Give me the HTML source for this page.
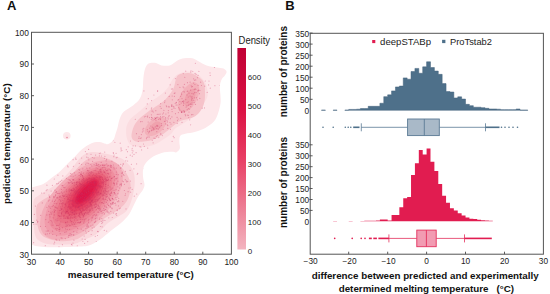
<!DOCTYPE html><html><head><meta charset="utf-8"><style>html,body{margin:0;padding:0;background:#fff;overflow:hidden}svg{display:block}svg text{font-family:"Liberation Sans",sans-serif}</style></head><body>
<svg width="550" height="294" viewBox="0 0 550 294" font-family="&quot;Liberation Sans&quot;, sans-serif">
<defs><clipPath id="ca"><rect x="31.5" y="32.3" width="199.9" height="221.9"/></clipPath>
<linearGradient id="cb" x1="0" y1="1" x2="0" y2="0">
<stop offset="0.000" stop-color="#f3b4bf"/>
<stop offset="0.200" stop-color="#ed8096"/>
<stop offset="0.450" stop-color="#e83e64"/>
<stop offset="0.700" stop-color="#db1043"/>
<stop offset="1.000" stop-color="#c00034"/>
</linearGradient>
<clipPath id="cl1"><path d="M22.0 196.0C25.5 186.0 38.3 187.0 43.2 184.0C48.1 181.0 48.7 180.0 51.4 177.9C54.1 175.8 56.9 174.1 59.6 171.7C62.3 169.3 65.0 166.3 67.7 163.6C70.4 160.9 73.5 157.8 75.9 155.4C78.3 153.0 79.5 151.3 82.0 149.3C84.5 147.3 88.1 144.7 91.0 143.5C93.9 142.3 96.5 142.0 99.2 142.1C101.9 142.2 105.0 144.5 107.3 144.2C109.6 143.9 111.6 142.2 113.0 140.5C114.4 138.8 114.8 136.1 115.5 134.0C116.2 131.9 116.8 130.4 117.5 127.7C118.2 125.0 118.9 120.7 120.0 118.0C121.1 115.3 121.8 113.6 124.0 111.5C126.2 109.4 130.8 107.3 133.4 105.2C136.0 103.1 138.1 101.6 139.6 99.1C141.1 96.6 142.0 93.5 142.6 90.0C143.2 86.5 143.0 81.5 143.4 78.0C143.8 74.5 144.2 71.4 145.0 69.0C145.8 66.6 146.8 64.5 148.5 63.5C150.2 62.5 152.8 62.5 155.0 62.8C157.2 63.1 159.1 65.0 161.6 65.4C164.1 65.8 167.1 66.2 169.8 65.4C172.5 64.6 175.5 61.5 177.9 60.3C180.3 59.1 181.7 58.6 184.1 58.3C186.5 58.0 189.9 57.8 192.3 58.3C194.7 58.8 196.0 60.1 198.4 61.3C200.8 62.5 203.5 64.4 206.6 65.4C209.7 66.4 214.0 66.9 216.8 67.4C219.6 67.9 221.9 67.8 223.5 68.5C225.1 69.2 226.4 70.5 226.6 71.8C226.8 73.0 225.3 74.8 224.5 76.0C223.7 77.2 222.7 77.4 221.9 79.0C221.1 80.6 220.1 83.0 219.9 85.8C219.7 88.6 220.4 93.1 220.5 96.0C220.6 98.9 220.9 100.3 220.5 103.2C220.1 106.1 219.1 110.4 218.0 113.4C216.9 116.5 216.0 119.1 213.9 121.5C211.8 123.9 208.8 126.0 205.7 127.7C202.6 129.4 198.9 130.7 195.5 131.7C192.1 132.7 187.9 133.1 185.3 133.8C182.8 134.5 181.2 134.6 180.2 136.0C179.2 137.4 179.5 139.9 179.4 142.0C179.3 144.1 180.3 146.8 179.8 148.5C179.3 150.2 177.8 151.6 176.5 152.2C175.2 152.8 174.3 151.7 171.8 151.8C169.3 151.9 165.0 152.0 161.6 153.0C158.2 154.0 154.1 155.9 151.4 157.7C148.7 159.5 146.7 161.8 145.3 163.8C143.9 165.9 143.3 167.6 143.0 170.0C142.7 172.4 142.9 175.6 143.2 178.1C143.4 180.6 144.6 182.9 144.5 185.0C144.4 187.1 143.5 188.7 142.5 190.5C141.5 192.3 139.9 193.7 138.5 196.0C137.1 198.3 135.8 201.2 134.2 204.3C132.6 207.4 131.2 211.4 129.0 214.5C126.8 217.6 124.1 220.2 121.0 223.0C117.9 225.8 114.0 228.3 110.6 231.0C107.2 233.7 103.6 237.1 100.5 239.3C97.4 241.5 94.8 243.0 92.0 244.2C89.2 245.4 89.1 245.8 84.0 246.3C78.9 246.8 67.7 247.0 61.6 247.2C55.5 247.3 51.4 247.3 47.3 247.2C43.2 247.0 39.8 246.8 37.1 246.3C34.4 245.9 33.5 244.9 31.0 244.5C28.5 244.1 23.5 252.1 22.0 244.0C20.5 235.9 18.5 206.0 22.0 196.0Z"/></clipPath>
</defs>
<text x="7" y="9.9" font-size="13" font-weight="bold" fill="#111">A</text>
<g clip-path="url(#ca)">
<path fill="#fde7ea" d="M22.0 196.0C25.5 186.0 38.3 187.0 43.2 184.0C48.1 181.0 48.7 180.0 51.4 177.9C54.1 175.8 56.9 174.1 59.6 171.7C62.3 169.3 65.0 166.3 67.7 163.6C70.4 160.9 73.5 157.8 75.9 155.4C78.3 153.0 79.5 151.3 82.0 149.3C84.5 147.3 88.1 144.7 91.0 143.5C93.9 142.3 96.5 142.0 99.2 142.1C101.9 142.2 105.0 144.5 107.3 144.2C109.6 143.9 111.6 142.2 113.0 140.5C114.4 138.8 114.8 136.1 115.5 134.0C116.2 131.9 116.8 130.4 117.5 127.7C118.2 125.0 118.9 120.7 120.0 118.0C121.1 115.3 121.8 113.6 124.0 111.5C126.2 109.4 130.8 107.3 133.4 105.2C136.0 103.1 138.1 101.6 139.6 99.1C141.1 96.6 142.0 93.5 142.6 90.0C143.2 86.5 143.0 81.5 143.4 78.0C143.8 74.5 144.2 71.4 145.0 69.0C145.8 66.6 146.8 64.5 148.5 63.5C150.2 62.5 152.8 62.5 155.0 62.8C157.2 63.1 159.1 65.0 161.6 65.4C164.1 65.8 167.1 66.2 169.8 65.4C172.5 64.6 175.5 61.5 177.9 60.3C180.3 59.1 181.7 58.6 184.1 58.3C186.5 58.0 189.9 57.8 192.3 58.3C194.7 58.8 196.0 60.1 198.4 61.3C200.8 62.5 203.5 64.4 206.6 65.4C209.7 66.4 214.0 66.9 216.8 67.4C219.6 67.9 221.9 67.8 223.5 68.5C225.1 69.2 226.4 70.5 226.6 71.8C226.8 73.0 225.3 74.8 224.5 76.0C223.7 77.2 222.7 77.4 221.9 79.0C221.1 80.6 220.1 83.0 219.9 85.8C219.7 88.6 220.4 93.1 220.5 96.0C220.6 98.9 220.9 100.3 220.5 103.2C220.1 106.1 219.1 110.4 218.0 113.4C216.9 116.5 216.0 119.1 213.9 121.5C211.8 123.9 208.8 126.0 205.7 127.7C202.6 129.4 198.9 130.7 195.5 131.7C192.1 132.7 187.9 133.1 185.3 133.8C182.8 134.5 181.2 134.6 180.2 136.0C179.2 137.4 179.5 139.9 179.4 142.0C179.3 144.1 180.3 146.8 179.8 148.5C179.3 150.2 177.8 151.6 176.5 152.2C175.2 152.8 174.3 151.7 171.8 151.8C169.3 151.9 165.0 152.0 161.6 153.0C158.2 154.0 154.1 155.9 151.4 157.7C148.7 159.5 146.7 161.8 145.3 163.8C143.9 165.9 143.3 167.6 143.0 170.0C142.7 172.4 142.9 175.6 143.2 178.1C143.4 180.6 144.6 182.9 144.5 185.0C144.4 187.1 143.5 188.7 142.5 190.5C141.5 192.3 139.9 193.7 138.5 196.0C137.1 198.3 135.8 201.2 134.2 204.3C132.6 207.4 131.2 211.4 129.0 214.5C126.8 217.6 124.1 220.2 121.0 223.0C117.9 225.8 114.0 228.3 110.6 231.0C107.2 233.7 103.6 237.1 100.5 239.3C97.4 241.5 94.8 243.0 92.0 244.2C89.2 245.4 89.1 245.8 84.0 246.3C78.9 246.8 67.7 247.0 61.6 247.2C55.5 247.3 51.4 247.3 47.3 247.2C43.2 247.0 39.8 246.8 37.1 246.3C34.4 245.9 33.5 244.9 31.0 244.5C28.5 244.1 23.5 252.1 22.0 244.0C20.5 235.9 18.5 206.0 22.0 196.0Z"/>
<circle cx="66.8" cy="135.8" r="3.8" fill="#fde7ea"/>
<circle cx="66.8" cy="136.2" r="2.0" fill="#fce2e6"/>
<circle cx="67" cy="137.6" r="0.8" fill="#e8889e"/>
<path fill="#fbdde1" d="M126.1 130.8C126.1 133.1 126.2 136.6 127.1 139.0C127.9 141.4 128.8 143.8 131.2 145.1C133.6 146.4 137.7 147.1 141.4 147.1C145.2 147.1 149.9 146.4 153.7 145.1C157.4 143.8 161.0 140.9 163.9 139.0C166.8 137.1 169.1 135.6 171.0 133.9C172.9 132.2 173.1 130.4 175.1 128.7C177.1 127.0 180.5 125.5 183.2 123.6C185.9 121.7 189.0 119.5 191.4 117.4C193.8 115.4 195.4 113.7 197.5 111.3C199.6 108.9 202.0 105.8 203.7 103.2C205.4 100.7 207.1 98.9 207.6 96.0C208.1 93.1 207.4 88.7 206.6 85.8C205.8 82.9 204.2 80.7 202.5 78.7C200.8 76.7 198.8 74.8 196.4 73.6C194.0 72.4 190.6 71.7 188.2 71.5C185.8 71.3 184.1 71.9 182.1 72.6C180.1 73.3 177.8 74.2 176.0 75.6C174.2 77.0 172.8 79.0 171.5 81.0C170.2 83.0 169.4 85.5 168.0 87.5C166.6 89.5 164.8 91.3 163.0 93.0C161.2 94.7 159.0 96.1 157.0 97.5C155.0 98.9 152.9 100.1 151.0 101.5C149.1 102.9 147.2 104.5 145.5 106.0C143.8 107.5 142.2 109.0 140.5 110.5C138.8 112.0 136.8 113.5 135.0 115.0C133.2 116.5 131.3 117.8 130.0 119.5C128.7 121.2 127.7 123.1 127.0 125.0C126.3 126.9 126.1 128.5 126.1 130.8Z"/>
<path fill="#f6c3ca" d="M178.3 74.9C180.4 73.8 185.3 72.9 188.5 73.1C191.7 73.3 194.8 74.6 197.4 76.2C200.0 77.8 202.5 79.6 203.8 82.6C205.1 85.6 205.0 90.5 205.0 94.1C205.0 97.7 204.9 101.1 203.8 104.3C202.8 107.5 200.8 110.9 198.7 113.2C196.6 115.5 194.0 117.0 191.0 118.3C188.0 119.6 183.8 119.5 180.8 120.8C177.8 122.1 175.8 124.1 173.2 126.0C170.6 127.9 168.1 130.4 165.5 132.3C162.9 134.2 160.9 136.0 157.9 137.4C154.9 138.8 151.3 140.3 147.7 141.0C144.0 141.7 138.7 142.2 136.0 141.5C133.3 140.8 131.8 139.1 131.5 136.5C131.2 133.9 132.6 129.1 134.0 126.0C135.4 122.9 137.7 120.3 140.0 118.0C142.3 115.7 145.1 113.8 147.7 111.9C150.2 110.0 152.3 108.9 155.3 106.8C158.3 104.7 162.5 102.2 165.5 99.2C168.5 96.2 171.5 92.2 173.2 89.0C174.9 85.8 174.8 82.3 175.7 80.0C176.5 77.7 176.2 76.1 178.3 74.9Z"/>
<ellipse cx="155.5" cy="126.5" rx="12.5" ry="7.2" transform="rotate(-38.0 155.5 126.5)" fill="#f3b1ba"/>
<ellipse cx="188.5" cy="97.5" rx="16.5" ry="8.5" transform="rotate(-62.0 188.5 97.5)" fill="#f3b1ba"/>
<ellipse cx="190.0" cy="97.5" rx="9.5" ry="4.5" transform="rotate(-65.0 190.0 97.5)" fill="#f0a2ad"/>
<ellipse cx="155.5" cy="126.0" rx="6.0" ry="3.5" transform="rotate(-38.0 155.5 126.0)" fill="#f0a2ad"/>
<path fill="#fad8dd" d="M33.7 199.9C32.8 202.3 33.3 206.4 33.3 210.0C33.3 213.6 33.2 217.4 33.5 221.6C33.8 225.8 34.1 232.0 35.1 235.2C36.1 238.4 37.2 239.2 39.2 240.7C41.2 242.2 44.7 243.3 47.3 244.0C49.9 244.7 52.2 244.5 55.0 244.6C57.8 244.7 60.5 244.8 64.0 244.6C67.5 244.4 72.8 244.0 75.7 243.4C78.7 242.8 79.3 242.0 81.7 241.0C84.1 240.0 87.6 238.6 90.0 237.5C92.4 236.4 94.2 235.6 96.2 234.2C98.2 232.8 100.3 230.7 102.3 228.8C104.3 226.9 105.7 224.8 108.4 222.7C111.1 220.6 115.5 218.6 118.6 216.5C121.7 214.4 124.8 212.8 126.8 210.4C128.8 208.0 129.8 204.9 130.9 202.2C132.0 199.5 132.6 196.7 133.2 194.0C133.8 191.3 134.2 188.7 134.5 186.0C134.8 183.3 135.0 180.6 134.7 177.9C134.4 175.2 133.8 172.1 132.6 169.7C131.4 167.3 129.5 165.5 127.7 163.6C125.9 161.7 124.0 159.9 121.6 158.5C119.2 157.1 116.1 156.2 113.4 155.4C110.7 154.6 108.0 153.9 105.3 153.4C102.6 152.9 99.6 152.5 97.1 152.3C94.5 152.1 92.3 151.9 90.0 152.3C87.7 152.8 85.6 153.6 83.5 155.0C81.4 156.4 79.5 158.7 77.5 161.0C75.5 163.3 73.6 166.4 71.5 169.0C69.4 171.6 67.2 174.1 65.0 176.3C62.8 178.5 60.5 180.3 58.2 182.2C55.9 184.1 53.7 185.9 51.4 187.5C49.1 189.1 46.7 190.5 44.6 191.8C42.5 193.1 40.4 194.2 38.6 195.5C36.8 196.8 34.6 197.5 33.7 199.9Z"/>
<path fill="#f6c0c8" d="M36.6 206.0C35.9 208.3 36.1 212.1 36.3 215.4C36.5 218.7 36.9 223.0 37.6 226.0C38.3 229.0 39.2 231.6 40.5 233.5C41.8 235.4 43.1 236.5 45.3 237.6C47.5 238.7 50.4 239.7 53.5 240.3C56.6 240.9 60.1 241.4 63.8 241.3C67.5 241.2 72.7 240.3 75.7 239.5C78.7 238.7 79.3 237.9 81.7 236.5C84.1 235.1 87.2 233.1 90.0 231.0C92.8 228.9 95.8 226.3 98.2 224.2C100.6 222.1 101.9 220.4 104.3 218.6C106.7 216.8 109.8 215.3 112.5 213.5C115.2 211.7 118.3 210.1 120.7 208.0C123.1 205.9 125.3 203.5 126.8 201.0C128.3 198.5 129.2 195.7 129.8 193.0C130.4 190.3 130.8 187.6 130.6 185.0C130.4 182.4 129.8 180.1 128.6 177.5C127.4 174.9 125.9 172.2 123.7 169.7C121.5 167.2 118.2 164.5 115.5 162.6C112.8 160.7 110.0 159.5 107.3 158.5C104.6 157.5 101.9 156.8 99.2 156.6C96.5 156.4 93.5 156.6 91.0 157.4C88.5 158.2 86.5 159.6 84.1 161.5C81.7 163.4 78.9 166.2 76.5 169.0C74.1 171.8 71.9 175.6 69.5 178.5C67.1 181.4 64.5 184.2 62.0 186.5C59.5 188.8 57.0 190.7 54.5 192.5C52.0 194.3 49.3 196.0 47.0 197.5C44.7 199.0 42.2 200.1 40.5 201.5C38.8 202.9 37.3 203.7 36.6 206.0Z"/>
<ellipse cx="81.5" cy="200.0" rx="51.0" ry="26.5" transform="rotate(-43.0 81.5 200.0)" fill="#f3acb8"/>
<ellipse cx="81.6" cy="199.8" rx="46.0" ry="23.4" transform="rotate(-43.5 81.6 199.8)" fill="#f19cab"/>
<ellipse cx="82.0" cy="199.2" rx="41.6" ry="20.8" transform="rotate(-44.0 82.0 199.2)" fill="#ef8e9e"/>
<ellipse cx="82.5" cy="198.4" rx="37.5" ry="18.5" transform="rotate(-44.5 82.5 198.4)" fill="#ed8092"/>
<ellipse cx="83.1" cy="197.4" rx="33.5" ry="16.3" transform="rotate(-45.0 83.1 197.4)" fill="#eb7286"/>
<ellipse cx="83.8" cy="196.2" rx="29.6" ry="14.1" transform="rotate(-45.5 83.8 196.2)" fill="#e9637a"/>
<ellipse cx="84.4" cy="195.1" rx="25.7" ry="12.1" transform="rotate(-46.0 84.4 195.1)" fill="#e7536e"/>
<ellipse cx="85.0" cy="194.1" rx="22.0" ry="10.0" transform="rotate(-46.5 85.0 194.1)" fill="#e54262"/>
<ellipse cx="85.5" cy="193.3" rx="18.3" ry="8.1" transform="rotate(-47.0 85.5 193.3)" fill="#e33258"/>
<ellipse cx="85.9" cy="192.7" rx="14.6" ry="6.1" transform="rotate(-47.5 85.9 192.7)" fill="#e1244f"/>
<ellipse cx="86.0" cy="192.5" rx="11.0" ry="4.2" transform="rotate(-48.0 86.0 192.5)" fill="#de1947"/>
<ellipse cx="81.5" cy="197.5" rx="6.0" ry="4.0" transform="rotate(-42.0 81.5 197.5)" fill="#de1648" fill-opacity="0.70"/>
<ellipse cx="92.5" cy="185.0" rx="6.0" ry="3.5" transform="rotate(-42.0 92.5 185.0)" fill="#e01c4c" fill-opacity="0.70"/>
<g fill="#cc3060" fill-opacity="0.35" clip-path="url(#cl1)"><circle cx="122.5" cy="165.8" r="0.6"/><circle cx="102.1" cy="202.5" r="0.6"/><circle cx="83.3" cy="216.9" r="0.6"/><circle cx="88.8" cy="219.3" r="0.6"/><circle cx="78.9" cy="198.1" r="0.6"/><circle cx="52.7" cy="234.5" r="0.6"/><circle cx="86.2" cy="207.7" r="0.6"/><circle cx="60.5" cy="200.1" r="0.6"/><circle cx="147.7" cy="148.1" r="0.6"/><circle cx="95.4" cy="201.6" r="0.6"/><circle cx="69.1" cy="191.2" r="0.6"/><circle cx="88.2" cy="212.1" r="0.6"/><circle cx="80.6" cy="217.4" r="0.6"/><circle cx="75.9" cy="226.4" r="0.6"/><circle cx="71.3" cy="195.3" r="0.6"/><circle cx="95.9" cy="192.4" r="0.6"/><circle cx="95.1" cy="219.0" r="0.6"/><circle cx="111.2" cy="193.2" r="0.6"/><circle cx="74.7" cy="192.3" r="0.6"/><circle cx="88.4" cy="200.7" r="0.6"/><circle cx="128.1" cy="191.7" r="0.6"/><circle cx="95.3" cy="189.3" r="0.6"/><circle cx="80.0" cy="210.5" r="0.6"/><circle cx="106.7" cy="231.1" r="0.6"/><circle cx="95.6" cy="189.8" r="0.6"/><circle cx="120.9" cy="167.9" r="0.6"/><circle cx="71.3" cy="190.8" r="0.6"/><circle cx="75.1" cy="194.4" r="0.6"/><circle cx="118.6" cy="200.6" r="0.6"/><circle cx="68.0" cy="210.2" r="0.6"/><circle cx="69.2" cy="189.0" r="0.6"/><circle cx="93.5" cy="174.2" r="0.6"/><circle cx="96.7" cy="189.7" r="0.6"/><circle cx="94.7" cy="205.9" r="0.6"/><circle cx="91.3" cy="179.6" r="0.6"/><circle cx="39.8" cy="249.4" r="0.6"/><circle cx="100.2" cy="177.2" r="0.6"/><circle cx="71.2" cy="217.0" r="0.6"/><circle cx="59.5" cy="229.6" r="0.6"/><circle cx="96.6" cy="201.2" r="0.6"/><circle cx="94.7" cy="182.7" r="0.6"/><circle cx="75.8" cy="203.0" r="0.6"/><circle cx="70.4" cy="220.4" r="0.6"/><circle cx="74.0" cy="182.8" r="0.6"/><circle cx="86.3" cy="201.0" r="0.6"/><circle cx="116.7" cy="183.0" r="0.6"/><circle cx="109.4" cy="199.1" r="0.6"/><circle cx="88.9" cy="194.8" r="0.6"/><circle cx="104.6" cy="179.2" r="0.6"/><circle cx="83.1" cy="202.9" r="0.6"/><circle cx="61.4" cy="203.6" r="0.6"/><circle cx="94.5" cy="186.8" r="0.6"/><circle cx="100.3" cy="194.1" r="0.6"/><circle cx="84.2" cy="204.6" r="0.6"/><circle cx="61.1" cy="197.7" r="0.6"/><circle cx="86.7" cy="190.8" r="0.6"/><circle cx="105.9" cy="196.9" r="0.6"/><circle cx="89.6" cy="184.4" r="0.6"/><circle cx="57.2" cy="225.5" r="0.6"/><circle cx="76.2" cy="184.2" r="0.6"/><circle cx="66.7" cy="211.5" r="0.6"/><circle cx="103.8" cy="191.7" r="0.6"/><circle cx="56.8" cy="240.1" r="0.6"/><circle cx="55.5" cy="195.8" r="0.6"/><circle cx="106.6" cy="197.0" r="0.6"/><circle cx="105.4" cy="178.5" r="0.6"/><circle cx="37.8" cy="221.4" r="0.6"/><circle cx="80.6" cy="210.9" r="0.6"/><circle cx="88.7" cy="189.5" r="0.6"/><circle cx="71.2" cy="203.6" r="0.6"/><circle cx="108.4" cy="165.6" r="0.6"/><circle cx="65.2" cy="218.4" r="0.6"/><circle cx="92.3" cy="192.9" r="0.6"/><circle cx="64.1" cy="211.6" r="0.6"/><circle cx="102.5" cy="165.4" r="0.6"/><circle cx="80.1" cy="192.1" r="0.6"/><circle cx="82.2" cy="208.1" r="0.6"/><circle cx="65.3" cy="238.6" r="0.6"/><circle cx="116.4" cy="172.1" r="0.6"/><circle cx="112.7" cy="202.9" r="0.6"/><circle cx="99.3" cy="186.3" r="0.6"/><circle cx="96.2" cy="167.9" r="0.6"/><circle cx="97.8" cy="199.9" r="0.6"/><circle cx="64.3" cy="196.2" r="0.6"/><circle cx="74.2" cy="214.5" r="0.6"/><circle cx="80.5" cy="222.3" r="0.6"/><circle cx="108.0" cy="173.5" r="0.6"/><circle cx="57.2" cy="218.8" r="0.6"/><circle cx="97.5" cy="235.5" r="0.6"/><circle cx="81.6" cy="205.4" r="0.6"/><circle cx="92.0" cy="197.5" r="0.6"/><circle cx="103.4" cy="198.2" r="0.6"/><circle cx="61.1" cy="215.5" r="0.6"/><circle cx="52.2" cy="222.9" r="0.6"/><circle cx="88.8" cy="202.3" r="0.6"/><circle cx="85.4" cy="151.6" r="0.6"/><circle cx="112.8" cy="202.8" r="0.6"/><circle cx="79.3" cy="182.1" r="0.6"/><circle cx="69.2" cy="190.0" r="0.6"/><circle cx="95.9" cy="199.6" r="0.6"/><circle cx="81.0" cy="201.8" r="0.6"/><circle cx="88.8" cy="170.9" r="0.6"/><circle cx="72.5" cy="212.3" r="0.6"/><circle cx="77.1" cy="182.5" r="0.6"/><circle cx="76.7" cy="191.4" r="0.6"/><circle cx="81.3" cy="172.1" r="0.6"/><circle cx="81.7" cy="184.8" r="0.6"/><circle cx="136.6" cy="163.9" r="0.6"/><circle cx="114.4" cy="176.6" r="0.6"/><circle cx="116.2" cy="178.8" r="0.6"/><circle cx="56.0" cy="239.3" r="0.6"/><circle cx="78.6" cy="202.4" r="0.6"/><circle cx="67.8" cy="199.3" r="0.6"/><circle cx="92.6" cy="186.5" r="0.6"/><circle cx="58.4" cy="251.4" r="0.6"/><circle cx="107.6" cy="180.4" r="0.6"/><circle cx="108.2" cy="185.4" r="0.6"/><circle cx="60.1" cy="216.3" r="0.6"/><circle cx="69.4" cy="215.4" r="0.6"/><circle cx="74.5" cy="214.9" r="0.6"/><circle cx="86.1" cy="197.0" r="0.6"/><circle cx="95.8" cy="186.3" r="0.6"/><circle cx="116.2" cy="157.8" r="0.6"/><circle cx="73.7" cy="190.9" r="0.6"/><circle cx="103.5" cy="190.9" r="0.6"/><circle cx="95.3" cy="204.1" r="0.6"/><circle cx="126.8" cy="181.9" r="0.6"/><circle cx="99.7" cy="187.2" r="0.6"/><circle cx="103.1" cy="167.5" r="0.6"/><circle cx="71.2" cy="221.4" r="0.6"/><circle cx="87.5" cy="207.9" r="0.6"/><circle cx="56.0" cy="192.6" r="0.6"/><circle cx="121.0" cy="184.4" r="0.6"/><circle cx="103.1" cy="194.6" r="0.6"/><circle cx="95.3" cy="221.8" r="0.6"/><circle cx="66.3" cy="191.5" r="0.6"/><circle cx="82.3" cy="175.6" r="0.6"/><circle cx="79.7" cy="217.5" r="0.6"/><circle cx="51.1" cy="191.0" r="0.6"/><circle cx="87.4" cy="182.0" r="0.6"/><circle cx="121.0" cy="147.9" r="0.6"/><circle cx="71.2" cy="189.7" r="0.6"/><circle cx="57.0" cy="184.0" r="0.6"/><circle cx="61.3" cy="212.7" r="0.6"/><circle cx="69.6" cy="229.3" r="0.6"/><circle cx="99.3" cy="195.0" r="0.6"/><circle cx="105.4" cy="190.2" r="0.6"/><circle cx="82.2" cy="193.5" r="0.6"/><circle cx="105.2" cy="209.6" r="0.6"/><circle cx="92.5" cy="202.2" r="0.6"/><circle cx="97.9" cy="208.0" r="0.6"/><circle cx="42.3" cy="202.9" r="0.6"/><circle cx="80.1" cy="208.8" r="0.6"/><circle cx="76.7" cy="182.9" r="0.6"/><circle cx="74.1" cy="213.8" r="0.6"/><circle cx="78.4" cy="207.4" r="0.6"/><circle cx="59.5" cy="197.2" r="0.6"/><circle cx="80.9" cy="205.0" r="0.6"/><circle cx="112.3" cy="198.5" r="0.6"/><circle cx="82.6" cy="209.9" r="0.6"/><circle cx="88.1" cy="207.1" r="0.6"/><circle cx="92.5" cy="175.6" r="0.6"/><circle cx="91.1" cy="180.3" r="0.6"/><circle cx="106.6" cy="159.4" r="0.6"/><circle cx="47.7" cy="231.1" r="0.6"/><circle cx="112.6" cy="198.8" r="0.6"/><circle cx="80.6" cy="210.3" r="0.6"/><circle cx="88.0" cy="195.9" r="0.6"/><circle cx="90.6" cy="172.3" r="0.6"/><circle cx="109.9" cy="186.8" r="0.6"/><circle cx="102.6" cy="179.5" r="0.6"/><circle cx="70.5" cy="173.5" r="0.6"/><circle cx="99.3" cy="153.6" r="0.6"/><circle cx="77.0" cy="198.3" r="0.6"/><circle cx="74.5" cy="189.7" r="0.6"/><circle cx="115.9" cy="205.1" r="0.6"/><circle cx="75.6" cy="206.7" r="0.6"/><circle cx="116.1" cy="153.3" r="0.6"/><circle cx="99.9" cy="177.0" r="0.6"/><circle cx="141.1" cy="183.7" r="0.6"/><circle cx="76.1" cy="187.4" r="0.6"/><circle cx="85.6" cy="212.8" r="0.6"/><circle cx="92.8" cy="200.6" r="0.6"/><circle cx="113.0" cy="204.0" r="0.6"/><circle cx="79.6" cy="213.1" r="0.6"/><circle cx="88.8" cy="187.6" r="0.6"/><circle cx="90.2" cy="204.4" r="0.6"/><circle cx="116.3" cy="174.4" r="0.6"/><circle cx="82.3" cy="219.4" r="0.6"/><circle cx="104.5" cy="181.5" r="0.6"/><circle cx="92.1" cy="230.7" r="0.6"/><circle cx="66.7" cy="211.4" r="0.6"/><circle cx="76.4" cy="213.9" r="0.6"/><circle cx="57.2" cy="208.4" r="0.6"/><circle cx="89.5" cy="197.3" r="0.6"/><circle cx="105.1" cy="182.8" r="0.6"/><circle cx="90.3" cy="197.6" r="0.6"/><circle cx="105.7" cy="199.1" r="0.6"/><circle cx="111.0" cy="167.2" r="0.6"/><circle cx="82.7" cy="184.2" r="0.6"/><circle cx="99.7" cy="208.1" r="0.6"/><circle cx="77.8" cy="199.0" r="0.6"/><circle cx="49.3" cy="214.7" r="0.6"/><circle cx="110.6" cy="200.1" r="0.6"/><circle cx="60.2" cy="233.7" r="0.6"/><circle cx="73.0" cy="157.6" r="0.6"/><circle cx="81.8" cy="194.0" r="0.6"/><circle cx="114.0" cy="190.3" r="0.6"/><circle cx="92.2" cy="208.9" r="0.6"/><circle cx="65.5" cy="204.7" r="0.6"/><circle cx="107.0" cy="210.9" r="0.6"/><circle cx="67.8" cy="197.5" r="0.6"/><circle cx="80.1" cy="198.3" r="0.6"/><circle cx="87.7" cy="199.1" r="0.6"/><circle cx="83.1" cy="200.2" r="0.6"/><circle cx="89.7" cy="210.4" r="0.6"/><circle cx="79.8" cy="222.7" r="0.6"/><circle cx="81.8" cy="200.6" r="0.6"/><circle cx="59.0" cy="246.8" r="0.6"/><circle cx="76.3" cy="192.7" r="0.6"/><circle cx="61.4" cy="213.9" r="0.6"/><circle cx="122.8" cy="201.3" r="0.6"/><circle cx="110.3" cy="180.2" r="0.6"/><circle cx="59.4" cy="240.1" r="0.6"/><circle cx="84.4" cy="191.1" r="0.6"/><circle cx="80.9" cy="197.1" r="0.6"/><circle cx="65.2" cy="212.9" r="0.6"/><circle cx="97.3" cy="192.3" r="0.6"/><circle cx="74.0" cy="201.4" r="0.6"/><circle cx="53.0" cy="225.2" r="0.6"/><circle cx="87.1" cy="210.1" r="0.6"/><circle cx="94.3" cy="214.6" r="0.6"/><circle cx="88.8" cy="198.0" r="0.6"/><circle cx="68.9" cy="224.5" r="0.6"/><circle cx="105.8" cy="199.6" r="0.6"/><circle cx="89.4" cy="174.8" r="0.6"/><circle cx="49.7" cy="197.4" r="0.6"/><circle cx="88.7" cy="227.1" r="0.6"/><circle cx="96.7" cy="214.9" r="0.6"/><circle cx="75.8" cy="207.6" r="0.6"/><circle cx="121.6" cy="176.1" r="0.6"/><circle cx="80.9" cy="184.3" r="0.6"/><circle cx="54.0" cy="197.6" r="0.6"/><circle cx="74.1" cy="214.0" r="0.6"/><circle cx="70.8" cy="182.0" r="0.6"/><circle cx="137.2" cy="174.3" r="0.6"/><circle cx="76.1" cy="193.2" r="0.6"/><circle cx="90.9" cy="199.8" r="0.6"/><circle cx="113.6" cy="213.1" r="0.6"/><circle cx="102.8" cy="220.9" r="0.6"/><circle cx="125.8" cy="160.8" r="0.6"/><circle cx="85.9" cy="218.8" r="0.6"/><circle cx="90.0" cy="175.2" r="0.6"/><circle cx="83.3" cy="189.1" r="0.6"/><circle cx="100.9" cy="193.3" r="0.6"/><circle cx="76.9" cy="232.2" r="0.6"/><circle cx="113.4" cy="165.0" r="0.6"/><circle cx="88.6" cy="206.5" r="0.6"/><circle cx="87.4" cy="199.0" r="0.6"/><circle cx="56.5" cy="197.8" r="0.6"/><circle cx="70.9" cy="207.8" r="0.6"/><circle cx="110.4" cy="207.2" r="0.6"/><circle cx="103.3" cy="182.4" r="0.6"/><circle cx="104.5" cy="192.8" r="0.6"/><circle cx="116.1" cy="189.7" r="0.6"/><circle cx="92.2" cy="179.0" r="0.6"/><circle cx="97.9" cy="212.2" r="0.6"/><circle cx="115.5" cy="203.1" r="0.6"/><circle cx="111.8" cy="207.9" r="0.6"/><circle cx="96.2" cy="215.1" r="0.6"/><circle cx="94.9" cy="181.9" r="0.6"/><circle cx="104.2" cy="172.1" r="0.6"/><circle cx="82.7" cy="185.6" r="0.6"/><circle cx="70.6" cy="193.1" r="0.6"/><circle cx="91.7" cy="178.2" r="0.6"/><circle cx="130.5" cy="181.1" r="0.6"/><circle cx="95.6" cy="218.4" r="0.6"/><circle cx="78.0" cy="192.2" r="0.6"/><circle cx="90.8" cy="209.7" r="0.6"/><circle cx="96.6" cy="165.1" r="0.6"/><circle cx="48.4" cy="222.2" r="0.6"/><circle cx="83.1" cy="181.1" r="0.6"/><circle cx="92.6" cy="161.3" r="0.6"/><circle cx="71.0" cy="211.1" r="0.6"/><circle cx="114.2" cy="176.6" r="0.6"/><circle cx="91.8" cy="185.4" r="0.6"/><circle cx="70.5" cy="200.4" r="0.6"/><circle cx="80.2" cy="183.6" r="0.6"/><circle cx="55.8" cy="219.8" r="0.6"/><circle cx="69.4" cy="199.7" r="0.6"/><circle cx="122.0" cy="173.4" r="0.6"/><circle cx="57.6" cy="197.6" r="0.6"/><circle cx="122.2" cy="172.9" r="0.6"/><circle cx="88.9" cy="205.3" r="0.6"/><circle cx="115.9" cy="197.6" r="0.6"/><circle cx="96.3" cy="209.7" r="0.6"/><circle cx="45.6" cy="234.2" r="0.6"/><circle cx="68.5" cy="198.8" r="0.6"/><circle cx="71.9" cy="174.0" r="0.6"/><circle cx="64.1" cy="215.4" r="0.6"/><circle cx="73.8" cy="234.9" r="0.6"/><circle cx="108.0" cy="211.9" r="0.6"/><circle cx="49.5" cy="178.3" r="0.6"/><circle cx="46.8" cy="214.9" r="0.6"/><circle cx="69.5" cy="204.3" r="0.6"/><circle cx="91.8" cy="173.0" r="0.6"/><circle cx="78.5" cy="207.4" r="0.6"/><circle cx="103.4" cy="184.4" r="0.6"/><circle cx="109.2" cy="169.0" r="0.6"/><circle cx="85.8" cy="197.2" r="0.6"/><circle cx="49.5" cy="196.6" r="0.6"/><circle cx="52.1" cy="206.4" r="0.6"/><circle cx="76.6" cy="188.0" r="0.6"/><circle cx="110.5" cy="195.2" r="0.6"/><circle cx="75.2" cy="175.1" r="0.6"/><circle cx="93.8" cy="187.3" r="0.6"/><circle cx="84.6" cy="213.8" r="0.6"/><circle cx="90.7" cy="192.9" r="0.6"/><circle cx="84.4" cy="214.6" r="0.6"/><circle cx="73.3" cy="195.4" r="0.6"/><circle cx="65.6" cy="222.7" r="0.6"/><circle cx="64.8" cy="232.4" r="0.6"/><circle cx="97.6" cy="231.4" r="0.6"/><circle cx="71.8" cy="223.3" r="0.6"/><circle cx="81.2" cy="229.2" r="0.6"/><circle cx="98.2" cy="188.1" r="0.6"/><circle cx="84.5" cy="200.9" r="0.6"/><circle cx="154.7" cy="172.4" r="0.6"/><circle cx="108.4" cy="190.9" r="0.6"/><circle cx="87.2" cy="224.2" r="0.6"/><circle cx="106.8" cy="194.7" r="0.6"/><circle cx="112.3" cy="217.5" r="0.6"/><circle cx="95.3" cy="236.3" r="0.6"/><circle cx="98.3" cy="171.8" r="0.6"/><circle cx="88.7" cy="231.5" r="0.6"/><circle cx="32.7" cy="249.4" r="0.6"/><circle cx="105.0" cy="191.8" r="0.6"/><circle cx="73.1" cy="206.2" r="0.6"/><circle cx="120.2" cy="184.1" r="0.6"/><circle cx="63.1" cy="195.1" r="0.6"/><circle cx="56.8" cy="207.6" r="0.6"/><circle cx="107.4" cy="166.0" r="0.6"/><circle cx="68.4" cy="217.9" r="0.6"/><circle cx="98.2" cy="205.9" r="0.6"/><circle cx="119.7" cy="185.0" r="0.6"/><circle cx="91.4" cy="200.9" r="0.6"/><circle cx="78.6" cy="192.6" r="0.6"/><circle cx="71.0" cy="176.2" r="0.6"/><circle cx="105.2" cy="190.4" r="0.6"/><circle cx="72.1" cy="212.2" r="0.6"/><circle cx="100.5" cy="193.3" r="0.6"/><circle cx="110.0" cy="206.3" r="0.6"/><circle cx="127.6" cy="161.0" r="0.6"/><circle cx="77.6" cy="201.1" r="0.6"/><circle cx="46.9" cy="185.2" r="0.6"/><circle cx="104.8" cy="193.7" r="0.6"/><circle cx="77.9" cy="203.8" r="0.6"/><circle cx="84.2" cy="185.4" r="0.6"/><circle cx="91.9" cy="200.8" r="0.6"/><circle cx="97.7" cy="168.5" r="0.6"/><circle cx="68.4" cy="201.9" r="0.6"/><circle cx="102.6" cy="222.6" r="0.6"/><circle cx="45.3" cy="245.7" r="0.6"/><circle cx="77.9" cy="222.6" r="0.6"/><circle cx="121.5" cy="183.9" r="0.6"/><circle cx="79.1" cy="216.1" r="0.6"/><circle cx="74.5" cy="211.2" r="0.6"/><circle cx="84.6" cy="243.4" r="0.6"/><circle cx="95.9" cy="188.7" r="0.6"/><circle cx="96.0" cy="204.2" r="0.6"/><circle cx="61.5" cy="213.7" r="0.6"/><circle cx="94.9" cy="184.1" r="0.6"/><circle cx="67.6" cy="165.9" r="0.6"/><circle cx="81.6" cy="164.5" r="0.6"/><circle cx="88.4" cy="226.0" r="0.6"/><circle cx="132.2" cy="189.4" r="0.6"/><circle cx="89.2" cy="187.0" r="0.6"/><circle cx="83.2" cy="199.6" r="0.6"/><circle cx="81.8" cy="213.2" r="0.6"/><circle cx="71.7" cy="190.3" r="0.6"/><circle cx="118.4" cy="205.9" r="0.6"/><circle cx="70.8" cy="190.2" r="0.6"/><circle cx="99.0" cy="173.5" r="0.6"/><circle cx="70.4" cy="157.2" r="0.6"/><circle cx="125.1" cy="195.5" r="0.6"/><circle cx="101.4" cy="186.6" r="0.6"/><circle cx="99.8" cy="218.1" r="0.6"/><circle cx="40.6" cy="215.3" r="0.6"/><circle cx="94.4" cy="197.6" r="0.6"/><circle cx="101.1" cy="187.1" r="0.6"/><circle cx="90.6" cy="198.0" r="0.6"/><circle cx="115.6" cy="214.0" r="0.6"/><circle cx="98.2" cy="231.7" r="0.6"/><circle cx="91.6" cy="220.0" r="0.6"/><circle cx="64.3" cy="207.7" r="0.6"/><circle cx="119.5" cy="188.0" r="0.6"/><circle cx="101.3" cy="211.4" r="0.6"/><circle cx="81.7" cy="212.1" r="0.6"/><circle cx="66.2" cy="224.9" r="0.6"/><circle cx="87.3" cy="206.1" r="0.6"/><circle cx="104.0" cy="165.8" r="0.6"/><circle cx="96.5" cy="194.0" r="0.6"/><circle cx="87.2" cy="227.8" r="0.6"/><circle cx="102.9" cy="164.9" r="0.6"/><circle cx="113.0" cy="177.5" r="0.6"/><circle cx="111.8" cy="193.0" r="0.6"/><circle cx="87.4" cy="170.3" r="0.6"/><circle cx="105.9" cy="179.1" r="0.6"/><circle cx="79.7" cy="170.1" r="0.6"/><circle cx="94.3" cy="179.3" r="0.6"/><circle cx="57.8" cy="193.5" r="0.6"/><circle cx="105.1" cy="165.0" r="0.6"/><circle cx="85.3" cy="188.9" r="0.6"/><circle cx="120.7" cy="164.3" r="0.6"/><circle cx="45.5" cy="226.5" r="0.6"/><circle cx="76.0" cy="159.4" r="0.6"/><circle cx="118.8" cy="201.7" r="0.6"/><circle cx="76.5" cy="200.0" r="0.6"/><circle cx="83.6" cy="178.4" r="0.6"/><circle cx="93.5" cy="179.4" r="0.6"/><circle cx="99.2" cy="192.9" r="0.6"/><circle cx="66.0" cy="194.5" r="0.6"/><circle cx="78.9" cy="195.3" r="0.6"/><circle cx="100.1" cy="177.1" r="0.6"/><circle cx="114.4" cy="185.0" r="0.6"/><circle cx="80.3" cy="187.8" r="0.6"/><circle cx="91.2" cy="202.1" r="0.6"/><circle cx="92.5" cy="199.0" r="0.6"/><circle cx="103.5" cy="180.6" r="0.6"/><circle cx="77.6" cy="228.4" r="0.6"/><circle cx="60.9" cy="218.3" r="0.6"/><circle cx="76.7" cy="182.4" r="0.6"/><circle cx="67.7" cy="218.2" r="0.6"/><circle cx="75.7" cy="208.3" r="0.6"/><circle cx="86.7" cy="196.2" r="0.6"/><circle cx="96.7" cy="193.4" r="0.6"/><circle cx="87.7" cy="241.6" r="0.6"/><circle cx="102.7" cy="188.6" r="0.6"/><circle cx="56.7" cy="230.1" r="0.6"/><circle cx="93.3" cy="186.9" r="0.6"/><circle cx="68.4" cy="237.1" r="0.6"/><circle cx="61.2" cy="216.6" r="0.6"/><circle cx="89.9" cy="178.9" r="0.6"/><circle cx="66.4" cy="189.9" r="0.6"/><circle cx="75.6" cy="216.2" r="0.6"/><circle cx="84.2" cy="213.4" r="0.6"/><circle cx="79.2" cy="172.5" r="0.6"/><circle cx="77.7" cy="190.4" r="0.6"/><circle cx="91.0" cy="205.9" r="0.6"/><circle cx="114.9" cy="194.0" r="0.6"/><circle cx="59.7" cy="193.4" r="0.6"/><circle cx="72.8" cy="200.4" r="0.6"/><circle cx="83.6" cy="215.6" r="0.6"/><circle cx="102.3" cy="174.1" r="0.6"/><circle cx="99.7" cy="177.8" r="0.6"/><circle cx="104.4" cy="172.2" r="0.6"/><circle cx="72.5" cy="183.3" r="0.6"/><circle cx="83.0" cy="200.9" r="0.6"/><circle cx="104.3" cy="188.7" r="0.6"/><circle cx="64.9" cy="187.6" r="0.6"/><circle cx="101.9" cy="186.6" r="0.6"/><circle cx="109.5" cy="200.0" r="0.6"/><circle cx="74.4" cy="210.9" r="0.6"/><circle cx="92.9" cy="210.3" r="0.6"/><circle cx="78.1" cy="193.4" r="0.6"/><circle cx="130.7" cy="187.8" r="0.6"/><circle cx="126.3" cy="149.7" r="0.6"/><circle cx="101.4" cy="221.5" r="0.6"/><circle cx="81.5" cy="192.5" r="0.6"/><circle cx="36.1" cy="224.1" r="0.6"/><circle cx="81.0" cy="184.4" r="0.6"/><circle cx="81.5" cy="193.3" r="0.6"/><circle cx="60.8" cy="208.4" r="0.6"/><circle cx="93.6" cy="178.1" r="0.6"/><circle cx="53.2" cy="217.8" r="0.6"/><circle cx="87.7" cy="209.0" r="0.6"/><circle cx="96.4" cy="206.2" r="0.6"/><circle cx="59.0" cy="212.9" r="0.6"/><circle cx="113.1" cy="199.4" r="0.6"/><circle cx="95.7" cy="170.4" r="0.6"/><circle cx="49.9" cy="206.9" r="0.6"/><circle cx="48.5" cy="206.0" r="0.6"/><circle cx="102.4" cy="195.9" r="0.6"/><circle cx="70.3" cy="180.3" r="0.6"/><circle cx="49.7" cy="200.0" r="0.6"/><circle cx="92.0" cy="217.3" r="0.6"/><circle cx="99.6" cy="219.5" r="0.6"/><circle cx="95.5" cy="215.8" r="0.6"/><circle cx="86.8" cy="168.1" r="0.6"/><circle cx="92.7" cy="192.3" r="0.6"/><circle cx="126.3" cy="180.9" r="0.6"/><circle cx="112.0" cy="178.3" r="0.6"/><circle cx="82.8" cy="168.8" r="0.6"/><circle cx="102.3" cy="177.7" r="0.6"/><circle cx="94.1" cy="158.1" r="0.6"/><circle cx="87.0" cy="172.9" r="0.6"/><circle cx="82.9" cy="241.5" r="0.6"/><circle cx="107.9" cy="192.9" r="0.6"/><circle cx="72.9" cy="179.7" r="0.6"/><circle cx="101.5" cy="156.0" r="0.6"/><circle cx="91.5" cy="201.8" r="0.6"/><circle cx="89.5" cy="182.9" r="0.6"/><circle cx="97.0" cy="199.7" r="0.6"/><circle cx="110.7" cy="165.0" r="0.6"/><circle cx="86.8" cy="192.9" r="0.6"/><circle cx="82.6" cy="204.7" r="0.6"/><circle cx="81.4" cy="181.2" r="0.6"/><circle cx="59.1" cy="182.1" r="0.6"/><circle cx="77.2" cy="181.5" r="0.6"/><circle cx="78.7" cy="189.8" r="0.6"/><circle cx="88.5" cy="191.4" r="0.6"/><circle cx="120.7" cy="168.1" r="0.6"/><circle cx="77.2" cy="203.2" r="0.6"/><circle cx="90.9" cy="203.3" r="0.6"/><circle cx="73.2" cy="190.5" r="0.6"/><circle cx="111.1" cy="204.0" r="0.6"/><circle cx="82.2" cy="239.0" r="0.6"/><circle cx="75.9" cy="212.6" r="0.6"/><circle cx="86.4" cy="200.6" r="0.6"/><circle cx="107.3" cy="204.1" r="0.6"/><circle cx="90.6" cy="206.1" r="0.6"/><circle cx="77.8" cy="207.6" r="0.6"/><circle cx="67.6" cy="209.0" r="0.6"/><circle cx="87.9" cy="181.5" r="0.6"/><circle cx="101.2" cy="162.4" r="0.6"/><circle cx="97.7" cy="200.7" r="0.6"/><circle cx="100.1" cy="208.8" r="0.6"/><circle cx="83.7" cy="178.8" r="0.6"/><circle cx="67.1" cy="211.2" r="0.6"/><circle cx="81.6" cy="205.1" r="0.6"/><circle cx="76.3" cy="196.9" r="0.6"/><circle cx="83.7" cy="184.5" r="0.6"/><circle cx="81.0" cy="193.7" r="0.6"/><circle cx="44.1" cy="193.2" r="0.6"/><circle cx="105.8" cy="180.1" r="0.6"/><circle cx="114.1" cy="168.8" r="0.6"/><circle cx="100.4" cy="226.5" r="0.6"/><circle cx="101.6" cy="202.7" r="0.6"/><circle cx="87.1" cy="189.7" r="0.6"/><circle cx="99.9" cy="185.9" r="0.6"/><circle cx="73.9" cy="240.2" r="0.6"/><circle cx="130.6" cy="192.2" r="0.6"/><circle cx="78.4" cy="207.0" r="0.6"/><circle cx="107.7" cy="177.2" r="0.6"/><circle cx="73.2" cy="179.7" r="0.6"/><circle cx="75.0" cy="199.9" r="0.6"/><circle cx="81.1" cy="197.9" r="0.6"/><circle cx="95.1" cy="175.7" r="0.6"/><circle cx="85.6" cy="231.0" r="0.6"/><circle cx="60.6" cy="181.6" r="0.6"/><circle cx="75.1" cy="203.5" r="0.6"/><circle cx="57.2" cy="228.5" r="0.6"/><circle cx="113.7" cy="183.2" r="0.6"/><circle cx="112.1" cy="208.7" r="0.6"/><circle cx="71.7" cy="181.8" r="0.6"/><circle cx="100.0" cy="171.5" r="0.6"/><circle cx="68.4" cy="213.4" r="0.6"/><circle cx="85.2" cy="200.4" r="0.6"/><circle cx="113.9" cy="167.2" r="0.6"/><circle cx="96.4" cy="174.1" r="0.6"/><circle cx="54.0" cy="243.9" r="0.6"/><circle cx="60.5" cy="206.8" r="0.6"/><circle cx="118.7" cy="198.5" r="0.6"/><circle cx="92.9" cy="225.1" r="0.6"/><circle cx="89.5" cy="211.2" r="0.6"/><circle cx="88.6" cy="178.6" r="0.6"/><circle cx="60.8" cy="201.2" r="0.6"/><circle cx="80.8" cy="184.1" r="0.6"/><circle cx="89.4" cy="172.6" r="0.6"/><circle cx="90.1" cy="185.9" r="0.6"/><circle cx="104.7" cy="206.6" r="0.6"/><circle cx="76.2" cy="209.5" r="0.6"/><circle cx="87.8" cy="181.2" r="0.6"/><circle cx="70.0" cy="195.2" r="0.6"/><circle cx="98.6" cy="164.4" r="0.6"/><circle cx="144.6" cy="173.0" r="0.6"/><circle cx="52.4" cy="185.4" r="0.6"/><circle cx="47.3" cy="233.8" r="0.6"/><circle cx="63.8" cy="187.4" r="0.6"/><circle cx="82.3" cy="179.7" r="0.6"/><circle cx="90.8" cy="164.5" r="0.6"/><circle cx="114.5" cy="192.6" r="0.6"/><circle cx="69.9" cy="208.6" r="0.6"/><circle cx="96.3" cy="241.6" r="0.6"/><circle cx="99.1" cy="166.4" r="0.6"/><circle cx="54.5" cy="201.4" r="0.6"/><circle cx="111.1" cy="188.1" r="0.6"/><circle cx="86.3" cy="207.6" r="0.6"/><circle cx="96.8" cy="182.8" r="0.6"/><circle cx="79.3" cy="163.4" r="0.6"/><circle cx="113.3" cy="202.7" r="0.6"/><circle cx="105.8" cy="191.8" r="0.6"/><circle cx="70.5" cy="217.2" r="0.6"/><circle cx="85.1" cy="186.2" r="0.6"/><circle cx="91.5" cy="204.8" r="0.6"/><circle cx="85.6" cy="186.4" r="0.6"/><circle cx="108.5" cy="179.4" r="0.6"/><circle cx="78.3" cy="199.4" r="0.6"/><circle cx="83.7" cy="222.9" r="0.6"/><circle cx="67.1" cy="203.0" r="0.6"/><circle cx="76.0" cy="198.1" r="0.6"/><circle cx="109.5" cy="199.0" r="0.6"/><circle cx="72.0" cy="212.4" r="0.6"/><circle cx="106.5" cy="179.7" r="0.6"/><circle cx="88.2" cy="190.2" r="0.6"/><circle cx="89.8" cy="211.9" r="0.6"/><circle cx="54.0" cy="209.9" r="0.6"/><circle cx="94.0" cy="199.2" r="0.6"/><circle cx="117.1" cy="210.6" r="0.6"/><circle cx="55.8" cy="228.7" r="0.6"/><circle cx="99.8" cy="170.2" r="0.6"/><circle cx="104.4" cy="158.5" r="0.6"/><circle cx="92.7" cy="194.0" r="0.6"/><circle cx="82.5" cy="175.6" r="0.6"/><circle cx="114.9" cy="142.3" r="0.6"/><circle cx="100.8" cy="169.9" r="0.6"/><circle cx="57.9" cy="198.1" r="0.6"/><circle cx="92.9" cy="207.8" r="0.6"/><circle cx="68.3" cy="182.7" r="0.6"/><circle cx="97.0" cy="218.0" r="0.6"/><circle cx="33.7" cy="224.2" r="0.6"/><circle cx="100.1" cy="187.2" r="0.6"/><circle cx="79.4" cy="214.7" r="0.6"/><circle cx="90.0" cy="197.4" r="0.6"/><circle cx="89.1" cy="207.7" r="0.6"/><circle cx="91.8" cy="172.6" r="0.6"/><circle cx="57.9" cy="175.2" r="0.6"/><circle cx="68.1" cy="206.9" r="0.6"/><circle cx="78.9" cy="169.5" r="0.6"/><circle cx="105.5" cy="169.2" r="0.6"/><circle cx="87.8" cy="213.0" r="0.6"/><circle cx="108.5" cy="174.1" r="0.6"/><circle cx="84.1" cy="186.3" r="0.6"/><circle cx="64.2" cy="192.0" r="0.6"/><circle cx="110.5" cy="170.7" r="0.6"/><circle cx="67.9" cy="207.4" r="0.6"/><circle cx="88.7" cy="163.3" r="0.6"/><circle cx="78.2" cy="208.0" r="0.6"/><circle cx="83.0" cy="177.7" r="0.6"/><circle cx="63.8" cy="218.3" r="0.6"/><circle cx="64.9" cy="204.4" r="0.6"/><circle cx="114.0" cy="192.5" r="0.6"/><circle cx="96.3" cy="204.2" r="0.6"/><circle cx="85.5" cy="196.6" r="0.6"/><circle cx="75.5" cy="202.4" r="0.6"/><circle cx="97.2" cy="195.4" r="0.6"/><circle cx="71.8" cy="234.3" r="0.6"/><circle cx="74.0" cy="226.5" r="0.6"/><circle cx="83.4" cy="201.4" r="0.6"/><circle cx="72.3" cy="213.5" r="0.6"/><circle cx="86.7" cy="226.2" r="0.6"/><circle cx="68.2" cy="179.3" r="0.6"/><circle cx="87.5" cy="205.7" r="0.6"/><circle cx="72.3" cy="190.2" r="0.6"/><circle cx="128.9" cy="188.0" r="0.6"/><circle cx="99.2" cy="176.4" r="0.6"/><circle cx="106.9" cy="177.6" r="0.6"/><circle cx="74.3" cy="185.2" r="0.6"/><circle cx="75.9" cy="205.3" r="0.6"/><circle cx="65.5" cy="228.8" r="0.6"/><circle cx="94.5" cy="222.4" r="0.6"/><circle cx="34.4" cy="214.4" r="0.6"/><circle cx="70.2" cy="201.3" r="0.6"/><circle cx="136.4" cy="231.8" r="0.6"/><circle cx="124.4" cy="184.3" r="0.6"/><circle cx="103.3" cy="183.1" r="0.6"/><circle cx="74.2" cy="216.9" r="0.6"/><circle cx="69.4" cy="159.3" r="0.6"/><circle cx="85.9" cy="228.6" r="0.6"/><circle cx="102.2" cy="187.3" r="0.6"/><circle cx="69.8" cy="182.8" r="0.6"/><circle cx="112.5" cy="198.6" r="0.6"/><circle cx="127.5" cy="151.7" r="0.6"/><circle cx="92.9" cy="172.0" r="0.6"/><circle cx="133.9" cy="168.8" r="0.6"/><circle cx="92.6" cy="200.0" r="0.6"/><circle cx="75.0" cy="197.6" r="0.6"/><circle cx="109.7" cy="177.0" r="0.6"/><circle cx="104.9" cy="156.3" r="0.6"/><circle cx="61.5" cy="189.5" r="0.6"/><circle cx="95.4" cy="207.3" r="0.6"/><circle cx="71.2" cy="235.0" r="0.6"/><circle cx="85.8" cy="206.0" r="0.6"/><circle cx="105.6" cy="188.9" r="0.6"/><circle cx="80.1" cy="194.7" r="0.6"/><circle cx="73.7" cy="205.1" r="0.6"/><circle cx="50.4" cy="208.3" r="0.6"/><circle cx="109.0" cy="212.9" r="0.6"/><circle cx="95.0" cy="179.3" r="0.6"/><circle cx="100.5" cy="193.8" r="0.6"/><circle cx="90.3" cy="194.1" r="0.6"/><circle cx="48.5" cy="200.9" r="0.6"/><circle cx="136.7" cy="194.0" r="0.6"/><circle cx="80.9" cy="194.5" r="0.6"/><circle cx="75.5" cy="191.2" r="0.6"/><circle cx="100.3" cy="188.3" r="0.6"/><circle cx="36.7" cy="220.2" r="0.6"/><circle cx="84.6" cy="199.3" r="0.6"/><circle cx="73.9" cy="188.9" r="0.6"/><circle cx="97.8" cy="199.0" r="0.6"/><circle cx="111.2" cy="178.3" r="0.6"/><circle cx="81.4" cy="174.9" r="0.6"/><circle cx="61.1" cy="237.8" r="0.6"/><circle cx="81.0" cy="205.4" r="0.6"/><circle cx="78.9" cy="182.0" r="0.6"/><circle cx="91.7" cy="200.0" r="0.6"/><circle cx="65.7" cy="222.4" r="0.6"/><circle cx="72.1" cy="244.9" r="0.6"/><circle cx="87.6" cy="179.7" r="0.6"/><circle cx="100.0" cy="202.8" r="0.6"/><circle cx="84.3" cy="197.3" r="0.6"/><circle cx="59.2" cy="231.3" r="0.6"/><circle cx="116.2" cy="168.2" r="0.6"/><circle cx="83.5" cy="209.4" r="0.6"/><circle cx="113.3" cy="152.6" r="0.6"/><circle cx="62.8" cy="175.9" r="0.6"/><circle cx="89.8" cy="194.5" r="0.6"/><circle cx="59.4" cy="210.7" r="0.6"/><circle cx="111.8" cy="178.6" r="0.6"/><circle cx="67.6" cy="225.2" r="0.6"/><circle cx="88.3" cy="191.8" r="0.6"/><circle cx="99.5" cy="210.1" r="0.6"/><circle cx="65.7" cy="213.6" r="0.6"/><circle cx="103.3" cy="186.1" r="0.6"/><circle cx="67.2" cy="229.4" r="0.6"/><circle cx="78.5" cy="215.5" r="0.6"/><circle cx="84.4" cy="197.7" r="0.6"/><circle cx="79.2" cy="206.0" r="0.6"/><circle cx="87.3" cy="182.4" r="0.6"/><circle cx="97.2" cy="177.2" r="0.6"/><circle cx="81.3" cy="204.0" r="0.6"/><circle cx="83.4" cy="216.0" r="0.6"/><circle cx="72.0" cy="201.1" r="0.6"/><circle cx="86.9" cy="213.7" r="0.6"/><circle cx="119.3" cy="208.8" r="0.6"/><circle cx="102.1" cy="226.8" r="0.6"/><circle cx="93.7" cy="192.6" r="0.6"/><circle cx="94.1" cy="212.2" r="0.6"/><circle cx="75.9" cy="218.4" r="0.6"/><circle cx="109.5" cy="194.6" r="0.6"/><circle cx="74.5" cy="224.0" r="0.6"/><circle cx="91.0" cy="204.6" r="0.6"/><circle cx="121.5" cy="185.7" r="0.6"/><circle cx="67.4" cy="217.3" r="0.6"/><circle cx="82.5" cy="196.4" r="0.6"/><circle cx="58.8" cy="225.5" r="0.6"/><circle cx="81.2" cy="212.1" r="0.6"/><circle cx="69.7" cy="235.5" r="0.6"/><circle cx="82.8" cy="208.4" r="0.6"/><circle cx="83.0" cy="215.4" r="0.6"/><circle cx="102.0" cy="213.3" r="0.6"/><circle cx="106.7" cy="163.8" r="0.6"/><circle cx="88.8" cy="191.3" r="0.6"/><circle cx="103.4" cy="195.0" r="0.6"/><circle cx="85.3" cy="199.7" r="0.6"/><circle cx="71.9" cy="190.5" r="0.6"/><circle cx="79.8" cy="222.8" r="0.6"/><circle cx="51.8" cy="225.0" r="0.6"/><circle cx="77.8" cy="185.9" r="0.6"/><circle cx="134.3" cy="196.2" r="0.6"/><circle cx="82.8" cy="176.4" r="0.6"/><circle cx="75.9" cy="206.5" r="0.6"/><circle cx="110.4" cy="165.9" r="0.6"/><circle cx="79.0" cy="206.4" r="0.6"/><circle cx="79.8" cy="214.5" r="0.6"/><circle cx="55.6" cy="207.4" r="0.6"/><circle cx="67.0" cy="211.9" r="0.6"/><circle cx="80.1" cy="200.8" r="0.6"/><circle cx="113.8" cy="156.7" r="0.6"/><circle cx="93.1" cy="215.3" r="0.6"/><circle cx="68.3" cy="216.1" r="0.6"/><circle cx="71.9" cy="204.3" r="0.6"/><circle cx="75.5" cy="194.1" r="0.6"/><circle cx="50.8" cy="220.5" r="0.6"/><circle cx="89.6" cy="198.3" r="0.6"/><circle cx="94.6" cy="182.6" r="0.6"/><circle cx="103.7" cy="208.3" r="0.6"/><circle cx="73.1" cy="159.7" r="0.6"/><circle cx="41.6" cy="193.0" r="0.6"/><circle cx="51.8" cy="221.2" r="0.6"/><circle cx="92.4" cy="157.5" r="0.6"/><circle cx="105.7" cy="181.2" r="0.6"/><circle cx="51.0" cy="214.1" r="0.6"/><circle cx="95.3" cy="202.2" r="0.6"/><circle cx="90.3" cy="203.0" r="0.6"/><circle cx="108.5" cy="205.6" r="0.6"/><circle cx="98.5" cy="206.1" r="0.6"/><circle cx="88.4" cy="220.8" r="0.6"/><circle cx="94.6" cy="201.8" r="0.6"/><circle cx="99.0" cy="208.6" r="0.6"/><circle cx="89.8" cy="205.1" r="0.6"/><circle cx="45.8" cy="219.6" r="0.6"/><circle cx="59.7" cy="196.3" r="0.6"/><circle cx="60.0" cy="228.9" r="0.6"/><circle cx="68.1" cy="166.9" r="0.6"/><circle cx="100.9" cy="189.8" r="0.6"/><circle cx="83.7" cy="185.8" r="0.6"/><circle cx="86.0" cy="212.7" r="0.6"/><circle cx="89.1" cy="199.8" r="0.6"/><circle cx="100.6" cy="172.1" r="0.6"/><circle cx="72.5" cy="209.7" r="0.6"/><circle cx="81.6" cy="158.0" r="0.6"/><circle cx="101.7" cy="191.0" r="0.6"/><circle cx="95.2" cy="200.0" r="0.6"/><circle cx="95.6" cy="155.1" r="0.6"/><circle cx="80.7" cy="219.4" r="0.6"/><circle cx="102.4" cy="182.9" r="0.6"/><circle cx="70.2" cy="214.6" r="0.6"/><circle cx="58.2" cy="193.5" r="0.6"/><circle cx="71.9" cy="221.6" r="0.6"/><circle cx="99.8" cy="198.6" r="0.6"/><circle cx="68.3" cy="212.6" r="0.6"/><circle cx="77.6" cy="186.3" r="0.6"/><circle cx="72.0" cy="224.7" r="0.6"/><circle cx="117.7" cy="197.0" r="0.6"/><circle cx="124.0" cy="175.5" r="0.6"/><circle cx="99.7" cy="206.9" r="0.6"/><circle cx="111.1" cy="167.0" r="0.6"/><circle cx="98.0" cy="192.0" r="0.6"/><circle cx="130.1" cy="170.3" r="0.6"/><circle cx="89.3" cy="198.9" r="0.6"/><circle cx="117.9" cy="181.2" r="0.6"/><circle cx="78.5" cy="194.2" r="0.6"/><circle cx="74.7" cy="224.1" r="0.6"/><circle cx="63.7" cy="196.1" r="0.6"/><circle cx="59.4" cy="227.7" r="0.6"/><circle cx="90.4" cy="210.4" r="0.6"/><circle cx="61.6" cy="209.4" r="0.6"/><circle cx="110.9" cy="172.8" r="0.6"/><circle cx="89.8" cy="178.0" r="0.6"/><circle cx="56.6" cy="225.6" r="0.6"/><circle cx="51.8" cy="213.9" r="0.6"/><circle cx="92.2" cy="227.9" r="0.6"/><circle cx="56.6" cy="235.7" r="0.6"/><circle cx="82.2" cy="198.1" r="0.6"/><circle cx="72.2" cy="183.2" r="0.6"/><circle cx="91.2" cy="234.5" r="0.6"/><circle cx="88.5" cy="222.6" r="0.6"/><circle cx="100.2" cy="197.2" r="0.6"/><circle cx="114.8" cy="180.0" r="0.6"/><circle cx="116.0" cy="178.6" r="0.6"/><circle cx="82.7" cy="193.2" r="0.6"/><circle cx="120.2" cy="208.2" r="0.6"/><circle cx="74.6" cy="212.8" r="0.6"/><circle cx="80.6" cy="176.2" r="0.6"/><circle cx="62.4" cy="206.0" r="0.6"/><circle cx="75.7" cy="158.1" r="0.6"/><circle cx="69.6" cy="225.6" r="0.6"/><circle cx="75.7" cy="222.7" r="0.6"/><circle cx="103.1" cy="220.0" r="0.6"/><circle cx="116.7" cy="215.3" r="0.6"/><circle cx="52.3" cy="211.8" r="0.6"/><circle cx="80.7" cy="212.6" r="0.6"/><circle cx="98.4" cy="208.8" r="0.6"/><circle cx="98.2" cy="205.0" r="0.6"/><circle cx="66.0" cy="205.9" r="0.6"/><circle cx="95.8" cy="207.1" r="0.6"/><circle cx="86.1" cy="209.0" r="0.6"/><circle cx="125.5" cy="193.8" r="0.6"/><circle cx="96.5" cy="190.4" r="0.6"/><circle cx="59.5" cy="216.3" r="0.6"/><circle cx="40.5" cy="226.4" r="0.6"/><circle cx="84.7" cy="193.2" r="0.6"/><circle cx="101.2" cy="172.3" r="0.6"/><circle cx="86.4" cy="192.5" r="0.6"/><circle cx="107.6" cy="191.6" r="0.6"/><circle cx="81.6" cy="211.7" r="0.6"/><circle cx="73.4" cy="235.0" r="0.6"/><circle cx="110.6" cy="200.5" r="0.6"/><circle cx="94.1" cy="204.8" r="0.6"/><circle cx="88.2" cy="175.2" r="0.6"/><circle cx="65.9" cy="226.5" r="0.6"/><circle cx="100.7" cy="209.8" r="0.6"/><circle cx="62.3" cy="193.2" r="0.6"/><circle cx="90.7" cy="173.7" r="0.6"/><circle cx="66.4" cy="196.5" r="0.6"/><circle cx="65.0" cy="195.9" r="0.6"/><circle cx="72.5" cy="204.3" r="0.6"/><circle cx="100.9" cy="168.8" r="0.6"/><circle cx="90.3" cy="202.9" r="0.6"/><circle cx="60.5" cy="196.1" r="0.6"/><circle cx="65.8" cy="212.7" r="0.6"/><circle cx="61.9" cy="208.7" r="0.6"/><circle cx="104.2" cy="165.3" r="0.6"/><circle cx="62.0" cy="238.2" r="0.6"/><circle cx="70.5" cy="211.9" r="0.6"/><circle cx="103.1" cy="195.4" r="0.6"/><circle cx="104.9" cy="177.0" r="0.6"/><circle cx="89.9" cy="209.1" r="0.6"/><circle cx="106.5" cy="194.0" r="0.6"/><circle cx="98.8" cy="185.4" r="0.6"/><circle cx="87.7" cy="163.1" r="0.6"/><circle cx="94.7" cy="207.5" r="0.6"/><circle cx="123.4" cy="181.7" r="0.6"/><circle cx="91.8" cy="197.5" r="0.6"/><circle cx="117.2" cy="178.1" r="0.6"/><circle cx="67.0" cy="216.5" r="0.6"/><circle cx="105.8" cy="186.4" r="0.6"/><circle cx="53.5" cy="205.6" r="0.6"/><circle cx="58.0" cy="220.3" r="0.6"/><circle cx="98.8" cy="194.4" r="0.6"/><circle cx="65.3" cy="203.6" r="0.6"/><circle cx="85.8" cy="180.2" r="0.6"/><circle cx="84.2" cy="236.0" r="0.6"/><circle cx="122.4" cy="181.0" r="0.6"/><circle cx="84.0" cy="194.4" r="0.6"/><circle cx="61.0" cy="209.5" r="0.6"/><circle cx="65.1" cy="164.6" r="0.6"/><circle cx="89.8" cy="168.1" r="0.6"/><circle cx="70.1" cy="206.7" r="0.6"/><circle cx="108.7" cy="205.2" r="0.6"/><circle cx="105.7" cy="143.1" r="0.6"/><circle cx="96.5" cy="176.7" r="0.6"/><circle cx="104.9" cy="220.4" r="0.6"/><circle cx="82.7" cy="214.3" r="0.6"/><circle cx="101.7" cy="194.0" r="0.6"/><circle cx="70.0" cy="234.7" r="0.6"/><circle cx="72.9" cy="205.9" r="0.6"/><circle cx="73.6" cy="222.6" r="0.6"/><circle cx="127.7" cy="181.4" r="0.6"/><circle cx="79.6" cy="183.3" r="0.6"/><circle cx="83.2" cy="230.5" r="0.6"/><circle cx="49.0" cy="195.1" r="0.6"/><circle cx="89.9" cy="182.2" r="0.6"/><circle cx="100.7" cy="246.2" r="0.6"/><circle cx="71.5" cy="200.6" r="0.6"/><circle cx="91.7" cy="206.8" r="0.6"/><circle cx="79.4" cy="184.8" r="0.6"/><circle cx="86.1" cy="192.6" r="0.6"/><circle cx="82.6" cy="187.6" r="0.6"/><circle cx="107.8" cy="173.4" r="0.6"/><circle cx="125.3" cy="179.7" r="0.6"/><circle cx="73.0" cy="243.1" r="0.6"/><circle cx="143.7" cy="168.9" r="0.6"/><circle cx="104.5" cy="213.9" r="0.6"/><circle cx="105.8" cy="173.0" r="0.6"/><circle cx="87.5" cy="225.9" r="0.6"/><circle cx="98.8" cy="199.3" r="0.6"/><circle cx="104.4" cy="210.4" r="0.6"/><circle cx="85.6" cy="191.0" r="0.6"/><circle cx="101.2" cy="182.0" r="0.6"/><circle cx="112.1" cy="204.0" r="0.6"/><circle cx="74.5" cy="219.9" r="0.6"/><circle cx="86.3" cy="200.6" r="0.6"/><circle cx="94.6" cy="178.6" r="0.6"/><circle cx="99.3" cy="186.0" r="0.6"/><circle cx="85.7" cy="208.2" r="0.6"/><circle cx="89.0" cy="210.1" r="0.6"/><circle cx="79.3" cy="193.3" r="0.6"/><circle cx="63.6" cy="210.1" r="0.6"/><circle cx="67.4" cy="221.9" r="0.6"/><circle cx="106.1" cy="160.8" r="0.6"/><circle cx="88.8" cy="214.3" r="0.6"/><circle cx="89.0" cy="195.8" r="0.6"/><circle cx="72.0" cy="207.0" r="0.6"/><circle cx="88.6" cy="149.4" r="0.6"/><circle cx="104.7" cy="152.1" r="0.6"/><circle cx="73.2" cy="188.3" r="0.6"/><circle cx="91.1" cy="182.4" r="0.6"/><circle cx="62.5" cy="195.6" r="0.6"/><circle cx="123.4" cy="174.6" r="0.6"/><circle cx="105.5" cy="184.5" r="0.6"/><circle cx="68.7" cy="206.4" r="0.6"/><circle cx="91.0" cy="154.3" r="0.6"/><circle cx="106.8" cy="207.7" r="0.6"/><circle cx="92.0" cy="187.4" r="0.6"/><circle cx="99.1" cy="198.4" r="0.6"/><circle cx="68.1" cy="199.2" r="0.6"/><circle cx="76.8" cy="205.0" r="0.6"/><circle cx="105.0" cy="195.6" r="0.6"/><circle cx="88.1" cy="200.4" r="0.6"/><circle cx="78.2" cy="222.4" r="0.6"/><circle cx="123.0" cy="164.1" r="0.6"/><circle cx="101.7" cy="223.3" r="0.6"/><circle cx="58.5" cy="183.3" r="0.6"/><circle cx="68.6" cy="201.0" r="0.6"/><circle cx="108.9" cy="197.9" r="0.6"/><circle cx="102.6" cy="179.2" r="0.6"/><circle cx="87.1" cy="188.0" r="0.6"/><circle cx="86.2" cy="163.1" r="0.6"/><circle cx="70.1" cy="233.5" r="0.6"/><circle cx="61.8" cy="180.4" r="0.6"/><circle cx="82.7" cy="209.9" r="0.6"/><circle cx="88.6" cy="199.1" r="0.6"/><circle cx="104.0" cy="199.7" r="0.6"/><circle cx="62.4" cy="244.7" r="0.6"/><circle cx="138.3" cy="141.5" r="0.6"/><circle cx="62.8" cy="200.5" r="0.6"/><circle cx="90.0" cy="188.0" r="0.6"/><circle cx="85.7" cy="164.3" r="0.6"/><circle cx="110.1" cy="193.6" r="0.6"/><circle cx="87.2" cy="188.6" r="0.6"/><circle cx="33.6" cy="242.7" r="0.6"/><circle cx="55.4" cy="200.1" r="0.6"/><circle cx="100.6" cy="185.5" r="0.6"/><circle cx="63.2" cy="203.5" r="0.6"/><circle cx="65.8" cy="211.9" r="0.6"/><circle cx="118.5" cy="190.5" r="0.6"/><circle cx="89.4" cy="181.6" r="0.6"/><circle cx="45.2" cy="180.7" r="0.6"/><circle cx="89.6" cy="206.5" r="0.6"/><circle cx="81.2" cy="195.0" r="0.6"/><circle cx="56.7" cy="203.6" r="0.6"/><circle cx="104.3" cy="230.4" r="0.6"/><circle cx="90.0" cy="192.6" r="0.6"/><circle cx="83.4" cy="173.1" r="0.6"/><circle cx="103.5" cy="170.8" r="0.6"/><circle cx="89.8" cy="201.1" r="0.6"/><circle cx="74.8" cy="201.5" r="0.6"/><circle cx="104.8" cy="205.5" r="0.6"/><circle cx="83.9" cy="219.1" r="0.6"/><circle cx="54.7" cy="206.8" r="0.6"/><circle cx="107.2" cy="180.3" r="0.6"/><circle cx="84.4" cy="210.4" r="0.6"/><circle cx="83.8" cy="190.5" r="0.6"/><circle cx="93.2" cy="182.0" r="0.6"/><circle cx="73.1" cy="224.2" r="0.6"/><circle cx="101.7" cy="192.8" r="0.6"/><circle cx="80.6" cy="174.1" r="0.6"/><circle cx="78.5" cy="192.3" r="0.6"/><circle cx="88.9" cy="186.4" r="0.6"/><circle cx="70.2" cy="207.3" r="0.6"/><circle cx="37.5" cy="222.2" r="0.6"/><circle cx="92.8" cy="217.1" r="0.6"/><circle cx="59.3" cy="199.7" r="0.6"/><circle cx="91.4" cy="171.5" r="0.6"/><circle cx="92.4" cy="195.7" r="0.6"/><circle cx="54.3" cy="179.0" r="0.6"/><circle cx="76.6" cy="184.5" r="0.6"/><circle cx="116.6" cy="184.1" r="0.6"/><circle cx="94.1" cy="164.7" r="0.6"/><circle cx="84.4" cy="181.8" r="0.6"/><circle cx="103.7" cy="203.4" r="0.6"/><circle cx="84.6" cy="206.8" r="0.6"/><circle cx="83.6" cy="199.9" r="0.6"/><circle cx="98.8" cy="191.2" r="0.6"/><circle cx="76.9" cy="191.2" r="0.6"/><circle cx="94.0" cy="196.4" r="0.6"/><circle cx="62.8" cy="211.8" r="0.6"/><circle cx="78.0" cy="251.7" r="0.6"/><circle cx="58.9" cy="229.3" r="0.6"/><circle cx="74.2" cy="200.1" r="0.6"/><circle cx="109.8" cy="176.7" r="0.6"/><circle cx="108.1" cy="180.2" r="0.6"/><circle cx="53.9" cy="196.4" r="0.6"/><circle cx="48.7" cy="211.3" r="0.6"/><circle cx="114.7" cy="203.3" r="0.6"/><circle cx="80.9" cy="174.1" r="0.6"/><circle cx="54.5" cy="211.4" r="0.6"/><circle cx="114.9" cy="193.4" r="0.6"/><circle cx="103.1" cy="212.5" r="0.6"/><circle cx="100.6" cy="165.6" r="0.6"/><circle cx="105.8" cy="209.4" r="0.6"/><circle cx="98.8" cy="179.8" r="0.6"/><circle cx="107.2" cy="212.0" r="0.6"/><circle cx="72.6" cy="217.8" r="0.6"/><circle cx="78.6" cy="197.8" r="0.6"/><circle cx="79.8" cy="216.3" r="0.6"/><circle cx="106.4" cy="191.6" r="0.6"/><circle cx="59.7" cy="203.6" r="0.6"/><circle cx="77.3" cy="245.8" r="0.6"/><circle cx="95.1" cy="183.3" r="0.6"/><circle cx="117.9" cy="193.7" r="0.6"/><circle cx="108.0" cy="170.1" r="0.6"/><circle cx="88.8" cy="159.8" r="0.6"/><circle cx="46.9" cy="207.3" r="0.6"/><circle cx="71.7" cy="207.0" r="0.6"/><circle cx="81.8" cy="213.9" r="0.6"/><circle cx="101.8" cy="218.5" r="0.6"/><circle cx="46.2" cy="231.1" r="0.6"/><circle cx="82.8" cy="194.5" r="0.6"/><circle cx="79.1" cy="179.1" r="0.6"/><circle cx="67.4" cy="211.5" r="0.6"/><circle cx="90.6" cy="199.4" r="0.6"/><circle cx="86.9" cy="153.9" r="0.6"/><circle cx="98.8" cy="212.2" r="0.6"/><circle cx="116.0" cy="195.0" r="0.6"/><circle cx="126.0" cy="208.9" r="0.6"/><circle cx="84.6" cy="180.8" r="0.6"/><circle cx="93.1" cy="192.3" r="0.6"/><circle cx="78.8" cy="203.4" r="0.6"/><circle cx="96.2" cy="163.4" r="0.6"/><circle cx="68.7" cy="194.8" r="0.6"/><circle cx="63.2" cy="196.7" r="0.6"/><circle cx="103.6" cy="193.0" r="0.6"/><circle cx="76.1" cy="213.6" r="0.6"/><circle cx="106.2" cy="206.9" r="0.6"/><circle cx="101.4" cy="176.9" r="0.6"/><circle cx="73.8" cy="180.1" r="0.6"/><circle cx="91.7" cy="201.1" r="0.6"/><circle cx="106.2" cy="188.0" r="0.6"/><circle cx="105.9" cy="194.0" r="0.6"/><circle cx="68.6" cy="235.4" r="0.6"/><circle cx="55.6" cy="210.5" r="0.6"/><circle cx="117.9" cy="186.8" r="0.6"/><circle cx="83.3" cy="179.9" r="0.6"/><circle cx="48.2" cy="230.8" r="0.6"/><circle cx="66.9" cy="226.0" r="0.6"/><circle cx="85.0" cy="195.8" r="0.6"/><circle cx="69.4" cy="214.9" r="0.6"/><circle cx="81.2" cy="174.2" r="0.6"/><circle cx="80.9" cy="188.7" r="0.6"/><circle cx="96.2" cy="191.8" r="0.6"/><circle cx="52.5" cy="201.1" r="0.6"/><circle cx="89.1" cy="178.1" r="0.6"/><circle cx="145.2" cy="196.2" r="0.6"/><circle cx="73.2" cy="212.4" r="0.6"/><circle cx="102.3" cy="167.9" r="0.6"/><circle cx="94.2" cy="170.5" r="0.6"/><circle cx="110.6" cy="203.7" r="0.6"/><circle cx="57.8" cy="165.5" r="0.6"/><circle cx="60.4" cy="210.5" r="0.6"/><circle cx="74.7" cy="217.3" r="0.6"/><circle cx="94.0" cy="178.5" r="0.6"/><circle cx="108.2" cy="187.8" r="0.6"/><circle cx="97.8" cy="165.7" r="0.6"/><circle cx="102.7" cy="181.7" r="0.6"/><circle cx="102.1" cy="183.2" r="0.6"/><circle cx="76.9" cy="203.0" r="0.6"/><circle cx="63.7" cy="216.2" r="0.6"/><circle cx="89.0" cy="193.6" r="0.6"/><circle cx="104.7" cy="201.8" r="0.6"/><circle cx="83.9" cy="191.9" r="0.6"/><circle cx="50.9" cy="212.3" r="0.6"/><circle cx="72.4" cy="200.7" r="0.6"/><circle cx="54.3" cy="214.9" r="0.6"/><circle cx="73.1" cy="176.2" r="0.6"/><circle cx="47.1" cy="189.7" r="0.6"/><circle cx="68.8" cy="182.9" r="0.6"/><circle cx="93.4" cy="194.5" r="0.6"/><circle cx="81.0" cy="186.2" r="0.6"/><circle cx="106.4" cy="170.6" r="0.6"/><circle cx="91.2" cy="246.2" r="0.6"/><circle cx="54.6" cy="242.2" r="0.6"/><circle cx="100.4" cy="179.3" r="0.6"/><circle cx="104.9" cy="167.5" r="0.6"/><circle cx="124.4" cy="190.5" r="0.6"/><circle cx="82.7" cy="182.6" r="0.6"/><circle cx="106.5" cy="202.3" r="0.6"/><circle cx="92.6" cy="201.0" r="0.6"/><circle cx="73.7" cy="231.7" r="0.6"/><circle cx="67.3" cy="196.2" r="0.6"/><circle cx="102.6" cy="199.0" r="0.6"/><circle cx="56.9" cy="183.6" r="0.6"/><circle cx="118.7" cy="165.1" r="0.6"/><circle cx="66.2" cy="231.8" r="0.6"/><circle cx="83.3" cy="210.6" r="0.6"/><circle cx="88.1" cy="157.8" r="0.6"/><circle cx="79.9" cy="213.1" r="0.6"/><circle cx="67.9" cy="218.3" r="0.6"/><circle cx="58.8" cy="215.7" r="0.6"/><circle cx="64.4" cy="198.5" r="0.6"/><circle cx="110.3" cy="169.8" r="0.6"/><circle cx="87.0" cy="183.0" r="0.6"/><circle cx="103.3" cy="199.1" r="0.6"/><circle cx="79.5" cy="209.2" r="0.6"/><circle cx="110.6" cy="195.6" r="0.6"/><circle cx="93.3" cy="202.3" r="0.6"/><circle cx="55.5" cy="194.8" r="0.6"/><circle cx="77.6" cy="204.3" r="0.6"/><circle cx="108.8" cy="217.8" r="0.6"/><circle cx="96.1" cy="165.2" r="0.6"/><circle cx="86.4" cy="200.0" r="0.6"/><circle cx="86.7" cy="179.2" r="0.6"/><circle cx="114.1" cy="155.0" r="0.6"/><circle cx="71.9" cy="210.4" r="0.6"/><circle cx="70.3" cy="225.3" r="0.6"/><circle cx="110.4" cy="190.0" r="0.6"/><circle cx="97.3" cy="194.6" r="0.6"/><circle cx="91.9" cy="208.4" r="0.6"/><circle cx="74.3" cy="172.8" r="0.6"/><circle cx="86.4" cy="210.3" r="0.6"/><circle cx="98.2" cy="192.7" r="0.6"/><circle cx="76.8" cy="198.8" r="0.6"/><circle cx="99.6" cy="183.6" r="0.6"/><circle cx="54.9" cy="203.5" r="0.6"/><circle cx="80.6" cy="221.7" r="0.6"/><circle cx="79.9" cy="185.3" r="0.6"/><circle cx="62.1" cy="185.7" r="0.6"/><circle cx="97.7" cy="185.2" r="0.6"/><circle cx="78.6" cy="189.7" r="0.6"/><circle cx="74.0" cy="203.2" r="0.6"/><circle cx="103.0" cy="210.3" r="0.6"/><circle cx="73.7" cy="202.2" r="0.6"/><circle cx="57.0" cy="220.8" r="0.6"/><circle cx="85.1" cy="239.4" r="0.6"/><circle cx="56.6" cy="191.5" r="0.6"/><circle cx="79.6" cy="207.2" r="0.6"/><circle cx="97.8" cy="208.0" r="0.6"/><circle cx="116.2" cy="199.7" r="0.6"/><circle cx="116.5" cy="213.7" r="0.6"/><circle cx="111.9" cy="161.2" r="0.6"/><circle cx="114.5" cy="183.7" r="0.6"/><circle cx="80.6" cy="197.5" r="0.6"/><circle cx="111.5" cy="165.5" r="0.6"/><circle cx="100.2" cy="169.5" r="0.6"/><circle cx="62.7" cy="185.5" r="0.6"/><circle cx="94.0" cy="195.0" r="0.6"/><circle cx="112.6" cy="188.1" r="0.6"/><circle cx="79.5" cy="179.7" r="0.6"/><circle cx="111.3" cy="189.3" r="0.6"/><circle cx="87.2" cy="183.3" r="0.6"/><circle cx="88.6" cy="173.3" r="0.6"/><circle cx="54.3" cy="169.9" r="0.6"/><circle cx="102.7" cy="203.0" r="0.6"/><circle cx="85.2" cy="209.7" r="0.6"/><circle cx="94.8" cy="181.9" r="0.6"/><circle cx="50.0" cy="216.8" r="0.6"/><circle cx="79.1" cy="175.5" r="0.6"/><circle cx="113.4" cy="183.0" r="0.6"/><circle cx="95.4" cy="186.3" r="0.6"/><circle cx="89.8" cy="202.5" r="0.6"/><circle cx="96.9" cy="189.8" r="0.6"/><circle cx="56.1" cy="192.1" r="0.6"/><circle cx="54.9" cy="190.2" r="0.6"/><circle cx="82.5" cy="206.2" r="0.6"/><circle cx="66.4" cy="178.3" r="0.6"/><circle cx="105.9" cy="184.5" r="0.6"/><circle cx="77.2" cy="220.1" r="0.6"/><circle cx="91.8" cy="165.8" r="0.6"/><circle cx="62.4" cy="227.7" r="0.6"/><circle cx="71.1" cy="208.5" r="0.6"/><circle cx="89.8" cy="202.9" r="0.6"/><circle cx="101.0" cy="171.2" r="0.6"/><circle cx="73.9" cy="205.3" r="0.6"/><circle cx="49.6" cy="233.6" r="0.6"/><circle cx="110.8" cy="211.4" r="0.6"/><circle cx="92.0" cy="205.4" r="0.6"/><circle cx="70.2" cy="218.6" r="0.6"/><circle cx="53.9" cy="197.0" r="0.6"/><circle cx="75.9" cy="210.9" r="0.6"/><circle cx="81.1" cy="187.0" r="0.6"/><circle cx="97.5" cy="185.7" r="0.6"/><circle cx="60.7" cy="222.0" r="0.6"/><circle cx="137.7" cy="173.4" r="0.6"/><circle cx="90.7" cy="204.2" r="0.6"/><circle cx="80.7" cy="204.5" r="0.6"/><circle cx="97.8" cy="185.8" r="0.6"/><circle cx="100.8" cy="211.0" r="0.6"/><circle cx="121.0" cy="151.0" r="0.6"/><circle cx="106.7" cy="180.7" r="0.6"/><circle cx="92.1" cy="218.5" r="0.6"/><circle cx="76.8" cy="200.4" r="0.6"/><circle cx="84.5" cy="214.1" r="0.6"/><circle cx="88.0" cy="212.4" r="0.6"/><circle cx="117.3" cy="209.9" r="0.6"/><circle cx="84.6" cy="219.9" r="0.6"/><circle cx="100.3" cy="153.1" r="0.6"/><circle cx="84.4" cy="198.1" r="0.6"/><circle cx="86.0" cy="202.4" r="0.6"/><circle cx="111.4" cy="192.2" r="0.6"/><circle cx="52.6" cy="231.2" r="0.6"/><circle cx="86.3" cy="233.0" r="0.6"/><circle cx="107.4" cy="200.6" r="0.6"/><circle cx="74.7" cy="182.6" r="0.6"/><circle cx="79.5" cy="189.4" r="0.6"/><circle cx="73.4" cy="166.3" r="0.6"/><circle cx="90.9" cy="225.9" r="0.6"/><circle cx="81.2" cy="197.6" r="0.6"/><circle cx="58.8" cy="215.3" r="0.6"/><circle cx="35.4" cy="206.1" r="0.6"/><circle cx="104.8" cy="171.9" r="0.6"/><circle cx="71.9" cy="215.2" r="0.6"/><circle cx="68.0" cy="202.1" r="0.6"/><circle cx="107.4" cy="170.2" r="0.6"/><circle cx="98.9" cy="172.6" r="0.6"/><circle cx="94.1" cy="227.1" r="0.6"/><circle cx="69.8" cy="197.3" r="0.6"/><circle cx="69.5" cy="179.8" r="0.6"/><circle cx="62.1" cy="203.9" r="0.6"/><circle cx="91.6" cy="183.1" r="0.6"/><circle cx="86.5" cy="192.2" r="0.6"/><circle cx="84.7" cy="190.6" r="0.6"/><circle cx="87.9" cy="170.8" r="0.6"/><circle cx="96.0" cy="182.1" r="0.6"/><circle cx="122.5" cy="172.0" r="0.6"/><circle cx="99.4" cy="155.8" r="0.6"/><circle cx="71.5" cy="244.4" r="0.6"/><circle cx="117.4" cy="201.7" r="0.6"/><circle cx="46.2" cy="190.6" r="0.6"/><circle cx="54.3" cy="212.4" r="0.6"/><circle cx="107.3" cy="196.4" r="0.6"/><circle cx="84.1" cy="221.6" r="0.6"/><circle cx="95.6" cy="221.1" r="0.6"/><circle cx="86.7" cy="157.2" r="0.6"/><circle cx="61.4" cy="192.1" r="0.6"/><circle cx="62.8" cy="202.6" r="0.6"/><circle cx="95.8" cy="196.8" r="0.6"/><circle cx="96.9" cy="164.0" r="0.6"/><circle cx="98.5" cy="192.4" r="0.6"/><circle cx="59.8" cy="224.1" r="0.6"/><circle cx="79.3" cy="213.7" r="0.6"/><circle cx="142.4" cy="132.0" r="0.6"/><circle cx="160.7" cy="126.0" r="0.6"/><circle cx="159.6" cy="127.0" r="0.6"/><circle cx="148.2" cy="122.0" r="0.6"/><circle cx="160.6" cy="103.7" r="0.6"/><circle cx="145.8" cy="116.3" r="0.6"/><circle cx="168.4" cy="110.6" r="0.6"/><circle cx="152.1" cy="130.1" r="0.6"/><circle cx="164.9" cy="100.9" r="0.6"/><circle cx="169.0" cy="107.2" r="0.6"/><circle cx="155.1" cy="138.3" r="0.6"/><circle cx="151.8" cy="111.0" r="0.6"/><circle cx="161.4" cy="123.7" r="0.6"/><circle cx="148.6" cy="132.8" r="0.6"/><circle cx="167.4" cy="121.9" r="0.6"/><circle cx="155.8" cy="110.7" r="0.6"/><circle cx="149.6" cy="131.8" r="0.6"/><circle cx="151.4" cy="114.8" r="0.6"/><circle cx="171.0" cy="124.1" r="0.6"/><circle cx="151.3" cy="119.6" r="0.6"/><circle cx="151.4" cy="130.7" r="0.6"/><circle cx="168.9" cy="106.4" r="0.6"/><circle cx="147.9" cy="131.3" r="0.6"/><circle cx="153.3" cy="112.0" r="0.6"/><circle cx="168.8" cy="116.3" r="0.6"/><circle cx="167.0" cy="120.5" r="0.6"/><circle cx="139.1" cy="136.8" r="0.6"/><circle cx="160.8" cy="134.5" r="0.6"/><circle cx="157.2" cy="126.0" r="0.6"/><circle cx="158.3" cy="128.9" r="0.6"/><circle cx="165.2" cy="121.1" r="0.6"/><circle cx="170.4" cy="129.3" r="0.6"/><circle cx="155.5" cy="118.2" r="0.6"/><circle cx="158.5" cy="119.3" r="0.6"/><circle cx="165.9" cy="114.0" r="0.6"/><circle cx="171.9" cy="116.9" r="0.6"/><circle cx="140.2" cy="138.5" r="0.6"/><circle cx="181.9" cy="111.1" r="0.6"/><circle cx="153.3" cy="128.6" r="0.6"/><circle cx="162.6" cy="114.0" r="0.6"/><circle cx="141.4" cy="134.6" r="0.6"/><circle cx="154.3" cy="129.0" r="0.6"/><circle cx="135.3" cy="119.3" r="0.6"/><circle cx="173.9" cy="122.3" r="0.6"/><circle cx="163.5" cy="112.9" r="0.6"/><circle cx="156.0" cy="120.7" r="0.6"/><circle cx="157.0" cy="125.4" r="0.6"/><circle cx="160.1" cy="118.4" r="0.6"/><circle cx="142.1" cy="121.6" r="0.6"/><circle cx="150.7" cy="126.0" r="0.6"/><circle cx="156.3" cy="136.3" r="0.6"/><circle cx="170.0" cy="122.5" r="0.6"/><circle cx="163.2" cy="129.5" r="0.6"/><circle cx="142.9" cy="129.2" r="0.6"/><circle cx="160.0" cy="119.0" r="0.6"/><circle cx="167.3" cy="124.8" r="0.6"/><circle cx="177.5" cy="120.7" r="0.6"/><circle cx="152.4" cy="127.2" r="0.6"/><circle cx="157.3" cy="114.4" r="0.6"/><circle cx="169.2" cy="96.4" r="0.6"/><circle cx="160.8" cy="133.3" r="0.6"/><circle cx="147.5" cy="117.0" r="0.6"/><circle cx="164.5" cy="121.5" r="0.6"/><circle cx="156.8" cy="131.7" r="0.6"/><circle cx="172.1" cy="141.3" r="0.6"/><circle cx="153.7" cy="127.8" r="0.6"/><circle cx="149.7" cy="128.2" r="0.6"/><circle cx="168.2" cy="119.0" r="0.6"/><circle cx="156.4" cy="128.7" r="0.6"/><circle cx="154.0" cy="138.2" r="0.6"/><circle cx="158.0" cy="129.1" r="0.6"/><circle cx="153.0" cy="119.8" r="0.6"/><circle cx="151.3" cy="108.9" r="0.6"/><circle cx="168.0" cy="117.8" r="0.6"/><circle cx="171.7" cy="106.0" r="0.6"/><circle cx="152.2" cy="140.3" r="0.6"/><circle cx="149.5" cy="117.6" r="0.6"/><circle cx="141.1" cy="137.9" r="0.6"/><circle cx="156.6" cy="117.4" r="0.6"/><circle cx="158.8" cy="114.3" r="0.6"/><circle cx="158.8" cy="137.6" r="0.6"/><circle cx="149.6" cy="131.1" r="0.6"/><circle cx="147.3" cy="129.7" r="0.6"/><circle cx="146.5" cy="138.7" r="0.6"/><circle cx="160.1" cy="114.1" r="0.6"/><circle cx="174.2" cy="107.0" r="0.6"/><circle cx="143.8" cy="128.3" r="0.6"/><circle cx="182.0" cy="122.4" r="0.6"/><circle cx="157.9" cy="126.1" r="0.6"/><circle cx="146.9" cy="137.4" r="0.6"/><circle cx="167.8" cy="125.6" r="0.6"/><circle cx="163.9" cy="116.7" r="0.6"/><circle cx="160.5" cy="119.6" r="0.6"/><circle cx="147.6" cy="116.1" r="0.6"/><circle cx="175.5" cy="113.7" r="0.6"/><circle cx="190.1" cy="96.1" r="0.6"/><circle cx="182.6" cy="101.4" r="0.6"/><circle cx="207.2" cy="92.4" r="0.6"/><circle cx="168.2" cy="112.8" r="0.6"/><circle cx="189.0" cy="93.2" r="0.6"/><circle cx="166.3" cy="105.8" r="0.6"/><circle cx="171.9" cy="105.7" r="0.6"/><circle cx="188.2" cy="101.8" r="0.6"/><circle cx="198.1" cy="85.4" r="0.6"/><circle cx="181.7" cy="112.1" r="0.6"/><circle cx="178.7" cy="107.6" r="0.6"/><circle cx="175.0" cy="108.5" r="0.6"/><circle cx="196.1" cy="74.4" r="0.6"/><circle cx="187.8" cy="91.0" r="0.6"/><circle cx="196.4" cy="97.7" r="0.6"/><circle cx="209.0" cy="81.1" r="0.6"/><circle cx="191.3" cy="97.0" r="0.6"/><circle cx="170.5" cy="118.7" r="0.6"/><circle cx="177.9" cy="100.1" r="0.6"/><circle cx="181.4" cy="112.0" r="0.6"/><circle cx="198.1" cy="75.4" r="0.6"/><circle cx="166.7" cy="106.7" r="0.6"/><circle cx="197.5" cy="99.8" r="0.6"/><circle cx="183.7" cy="103.6" r="0.6"/><circle cx="182.2" cy="101.7" r="0.6"/><circle cx="181.6" cy="94.7" r="0.6"/><circle cx="180.6" cy="96.3" r="0.6"/><circle cx="188.4" cy="108.7" r="0.6"/><circle cx="173.3" cy="108.0" r="0.6"/><circle cx="183.5" cy="105.4" r="0.6"/><circle cx="184.5" cy="111.6" r="0.6"/><circle cx="192.9" cy="114.6" r="0.6"/><circle cx="191.5" cy="99.0" r="0.6"/><circle cx="185.8" cy="99.6" r="0.6"/><circle cx="187.2" cy="91.3" r="0.6"/><circle cx="190.9" cy="103.8" r="0.6"/><circle cx="205.3" cy="81.0" r="0.6"/><circle cx="179.7" cy="104.5" r="0.6"/><circle cx="184.4" cy="111.0" r="0.6"/><circle cx="192.5" cy="86.5" r="0.6"/><circle cx="172.3" cy="99.8" r="0.6"/><circle cx="181.4" cy="93.1" r="0.6"/><circle cx="198.1" cy="90.5" r="0.6"/><circle cx="195.4" cy="104.4" r="0.6"/><circle cx="189.0" cy="104.4" r="0.6"/><circle cx="191.7" cy="86.9" r="0.6"/><circle cx="184.5" cy="91.9" r="0.6"/><circle cx="187.0" cy="105.8" r="0.6"/><circle cx="181.5" cy="112.3" r="0.6"/><circle cx="174.4" cy="96.4" r="0.6"/><circle cx="180.7" cy="118.4" r="0.6"/><circle cx="177.0" cy="105.0" r="0.6"/><circle cx="184.3" cy="112.4" r="0.6"/><circle cx="192.1" cy="96.9" r="0.6"/><circle cx="196.2" cy="92.6" r="0.6"/><circle cx="189.6" cy="109.1" r="0.6"/><circle cx="188.6" cy="105.5" r="0.6"/><circle cx="173.4" cy="106.3" r="0.6"/><circle cx="171.9" cy="109.4" r="0.6"/><circle cx="190.7" cy="106.7" r="0.6"/><circle cx="193.4" cy="93.9" r="0.6"/><circle cx="179.9" cy="87.4" r="0.6"/><circle cx="177.9" cy="84.6" r="0.6"/><circle cx="190.8" cy="104.4" r="0.6"/><circle cx="183.9" cy="135.8" r="0.6"/><circle cx="197.9" cy="91.2" r="0.6"/><circle cx="193.6" cy="83.1" r="0.6"/><circle cx="194.3" cy="89.4" r="0.6"/><circle cx="175.4" cy="78.6" r="0.6"/><circle cx="187.5" cy="82.7" r="0.6"/><circle cx="210.0" cy="72.9" r="0.6"/><circle cx="194.4" cy="97.8" r="0.6"/><circle cx="183.2" cy="73.6" r="0.6"/><circle cx="199.5" cy="93.7" r="0.6"/><circle cx="194.6" cy="92.7" r="0.6"/><circle cx="192.1" cy="102.9" r="0.6"/><circle cx="183.6" cy="101.0" r="0.6"/><circle cx="180.0" cy="110.2" r="0.6"/><circle cx="183.9" cy="87.8" r="0.6"/><circle cx="187.1" cy="102.6" r="0.6"/><circle cx="185.2" cy="114.3" r="0.6"/><circle cx="176.3" cy="102.8" r="0.6"/><circle cx="181.9" cy="112.2" r="0.6"/><circle cx="193.6" cy="78.8" r="0.6"/><circle cx="192.0" cy="104.5" r="0.6"/><circle cx="193.8" cy="100.5" r="0.6"/><circle cx="164.6" cy="102.6" r="0.6"/><circle cx="183.4" cy="110.9" r="0.6"/><circle cx="199.9" cy="90.4" r="0.6"/><circle cx="182.0" cy="98.6" r="0.6"/><circle cx="187.0" cy="94.9" r="0.6"/><circle cx="197.5" cy="77.7" r="0.6"/><circle cx="192.8" cy="71.3" r="0.6"/><circle cx="190.6" cy="90.2" r="0.6"/><circle cx="199.8" cy="98.4" r="0.6"/><circle cx="174.3" cy="93.4" r="0.6"/><circle cx="191.0" cy="70.9" r="0.6"/><circle cx="191.9" cy="93.5" r="0.6"/><circle cx="195.2" cy="88.9" r="0.6"/><circle cx="178.4" cy="112.6" r="0.6"/><circle cx="183.1" cy="91.7" r="0.6"/><circle cx="220.0" cy="85.5" r="0.6"/><circle cx="201.5" cy="85.5" r="0.6"/><circle cx="187.3" cy="115.0" r="0.6"/><circle cx="155.7" cy="118.7" r="0.6"/><circle cx="162.3" cy="135.6" r="0.6"/><circle cx="176.0" cy="105.0" r="0.6"/><circle cx="181.2" cy="103.1" r="0.6"/><circle cx="140.9" cy="147.0" r="0.6"/><circle cx="165.4" cy="93.1" r="0.6"/><circle cx="172.2" cy="96.0" r="0.6"/><circle cx="188.7" cy="117.5" r="0.6"/><circle cx="151.7" cy="107.8" r="0.6"/><circle cx="214.5" cy="67.4" r="0.6"/><circle cx="192.3" cy="98.7" r="0.6"/><circle cx="153.1" cy="142.8" r="0.6"/><circle cx="154.4" cy="117.8" r="0.6"/><circle cx="188.3" cy="97.0" r="0.6"/><circle cx="175.0" cy="92.9" r="0.6"/><circle cx="171.8" cy="104.7" r="0.6"/><circle cx="177.1" cy="117.4" r="0.6"/><circle cx="169.2" cy="115.5" r="0.6"/><circle cx="162.4" cy="116.9" r="0.6"/><circle cx="153.6" cy="129.8" r="0.6"/><circle cx="183.7" cy="101.1" r="0.6"/><circle cx="117.1" cy="157.3" r="0.6"/><circle cx="154.7" cy="119.5" r="0.6"/><circle cx="190.1" cy="82.2" r="0.6"/><circle cx="159.7" cy="127.8" r="0.6"/><circle cx="140.6" cy="121.7" r="0.6"/><circle cx="214.9" cy="85.7" r="0.6"/><circle cx="204.5" cy="107.9" r="0.6"/><circle cx="177.2" cy="123.4" r="0.6"/><circle cx="173.3" cy="136.4" r="0.6"/><circle cx="160.2" cy="106.6" r="0.6"/><circle cx="165.6" cy="117.7" r="0.6"/><circle cx="161.2" cy="108.4" r="0.6"/><circle cx="151.9" cy="117.3" r="0.6"/><circle cx="171.4" cy="89.0" r="0.6"/><circle cx="152.6" cy="111.0" r="0.6"/><circle cx="140.0" cy="146.7" r="0.6"/><circle cx="149.4" cy="137.0" r="0.6"/><circle cx="178.1" cy="119.0" r="0.6"/><circle cx="157.3" cy="135.5" r="0.6"/><circle cx="126.3" cy="157.4" r="0.6"/><circle cx="195.7" cy="79.9" r="0.6"/><circle cx="179.9" cy="101.6" r="0.6"/><circle cx="165.7" cy="123.9" r="0.6"/><circle cx="167.8" cy="128.4" r="0.6"/><circle cx="178.6" cy="99.6" r="0.6"/><circle cx="194.9" cy="84.5" r="0.6"/><circle cx="155.7" cy="118.2" r="0.6"/><circle cx="188.3" cy="115.4" r="0.6"/><circle cx="161.6" cy="125.4" r="0.6"/><circle cx="175.2" cy="103.3" r="0.6"/><circle cx="157.8" cy="117.2" r="0.6"/><circle cx="194.1" cy="102.4" r="0.6"/><circle cx="138.8" cy="138.3" r="0.6"/><circle cx="157.6" cy="90.7" r="0.6"/><circle cx="143.9" cy="90.9" r="0.6"/><circle cx="151.6" cy="100.6" r="0.6"/><circle cx="170.2" cy="84.8" r="0.6"/><circle cx="191.8" cy="100.3" r="0.6"/><circle cx="187.2" cy="109.7" r="0.6"/><circle cx="191.2" cy="85.8" r="0.6"/><circle cx="174.1" cy="137.7" r="0.6"/><circle cx="136.5" cy="133.7" r="0.6"/><circle cx="208.6" cy="84.9" r="0.6"/><circle cx="217.9" cy="56.5" r="0.6"/><circle cx="156.9" cy="126.1" r="0.6"/><circle cx="185.5" cy="115.7" r="0.6"/><circle cx="210.3" cy="88.2" r="0.6"/><circle cx="191.6" cy="114.7" r="0.6"/><circle cx="112.9" cy="140.6" r="0.6"/><circle cx="204.7" cy="86.2" r="0.6"/><circle cx="190.6" cy="124.8" r="0.6"/><circle cx="195.9" cy="89.3" r="0.6"/><circle cx="151.5" cy="117.7" r="0.6"/><circle cx="194.5" cy="80.2" r="0.6"/><circle cx="195.1" cy="73.4" r="0.6"/><circle cx="160.5" cy="116.7" r="0.6"/><circle cx="202.3" cy="108.2" r="0.6"/><circle cx="165.8" cy="118.9" r="0.6"/><circle cx="163.9" cy="110.3" r="0.6"/><circle cx="146.3" cy="108.7" r="0.6"/><circle cx="153.9" cy="95.0" r="0.6"/><circle cx="185.1" cy="143.8" r="0.6"/><circle cx="198.9" cy="71.4" r="0.6"/><circle cx="171.8" cy="106.3" r="0.6"/><circle cx="144.4" cy="116.8" r="0.6"/><circle cx="210.2" cy="75.4" r="0.6"/><circle cx="184.4" cy="84.4" r="0.6"/><circle cx="200.6" cy="82.2" r="0.6"/><circle cx="189.7" cy="119.8" r="0.6"/><circle cx="184.8" cy="77.3" r="0.6"/><circle cx="179.3" cy="108.9" r="0.6"/><circle cx="152.8" cy="118.4" r="0.6"/><circle cx="186.1" cy="107.1" r="0.6"/><circle cx="172.4" cy="88.9" r="0.6"/><circle cx="183.5" cy="102.5" r="0.6"/><circle cx="185.7" cy="71.2" r="0.6"/><circle cx="116.1" cy="111.7" r="0.6"/><circle cx="169.3" cy="77.7" r="0.6"/><circle cx="147.3" cy="103.9" r="0.6"/><circle cx="157.6" cy="91.4" r="0.6"/><circle cx="183.1" cy="86.9" r="0.6"/><circle cx="189.0" cy="112.1" r="0.6"/><circle cx="148.3" cy="98.7" r="0.6"/><circle cx="198.5" cy="90.1" r="0.6"/><circle cx="176.3" cy="102.4" r="0.6"/><circle cx="190.7" cy="72.1" r="0.6"/><circle cx="195.4" cy="63.3" r="0.6"/><circle cx="172.1" cy="111.6" r="0.6"/><circle cx="155.3" cy="126.9" r="0.6"/><circle cx="132.3" cy="156.2" r="0.6"/><circle cx="132.3" cy="152.8" r="0.6"/><circle cx="132.0" cy="150.1" r="0.6"/><circle cx="123.4" cy="163.9" r="0.6"/><circle cx="132.2" cy="148.3" r="0.6"/><circle cx="133.1" cy="145.8" r="0.6"/><circle cx="143.1" cy="130.9" r="0.6"/><circle cx="113.4" cy="153.3" r="0.6"/><circle cx="131.4" cy="164.3" r="0.6"/><circle cx="136.1" cy="152.7" r="0.6"/><circle cx="121.1" cy="149.1" r="0.6"/><circle cx="130.3" cy="155.2" r="0.6"/><circle cx="133.0" cy="150.9" r="0.6"/><circle cx="120.2" cy="143.2" r="0.6"/><circle cx="128.2" cy="146.8" r="0.6"/><circle cx="135.4" cy="145.9" r="0.6"/><circle cx="125.5" cy="171.3" r="0.6"/><circle cx="141.6" cy="149.9" r="0.6"/><circle cx="118.2" cy="174.7" r="0.6"/><circle cx="148.0" cy="136.9" r="0.6"/><circle cx="144.3" cy="146.4" r="0.6"/><circle cx="121.9" cy="150.3" r="0.6"/><circle cx="143.5" cy="144.0" r="0.6"/><circle cx="134.0" cy="154.4" r="0.6"/><circle cx="130.5" cy="141.0" r="0.6"/></g>
</g>
<rect x="31.5" y="32.3" width="199.9" height="221.9" fill="none" stroke="#555" stroke-width="1"/>
<path d="M60.1 254.2V251.7M31.5 222.5H34.0M88.6 254.2V251.7M31.5 190.8H34.0M117.2 254.2V251.7M31.5 159.1H34.0M145.7 254.2V251.7M31.5 127.4H34.0M174.3 254.2V251.7M31.5 95.7H34.0M202.8 254.2V251.7M31.5 64.0H34.0" stroke="#4a4a4a" stroke-width="0.9" fill="none"/>
<g font-size="8" fill="#222"><text x="31.5" y="264.9" text-anchor="middle" font-size="8.4">30</text><text x="28.9" y="257.6" text-anchor="end" font-size="8.4">30</text><text x="60.1" y="264.9" text-anchor="middle" font-size="8.4">40</text><text x="28.9" y="225.9" text-anchor="end" font-size="8.4">40</text><text x="88.6" y="264.9" text-anchor="middle" font-size="8.4">50</text><text x="28.9" y="194.2" text-anchor="end" font-size="8.4">50</text><text x="117.2" y="264.9" text-anchor="middle" font-size="8.4">60</text><text x="28.9" y="162.5" text-anchor="end" font-size="8.4">60</text><text x="145.7" y="264.9" text-anchor="middle" font-size="8.4">70</text><text x="28.9" y="130.8" text-anchor="end" font-size="8.4">70</text><text x="174.3" y="264.9" text-anchor="middle" font-size="8.4">80</text><text x="28.9" y="99.1" text-anchor="end" font-size="8.4">80</text><text x="202.8" y="264.9" text-anchor="middle" font-size="8.4">90</text><text x="28.9" y="67.4" text-anchor="end" font-size="8.4">90</text><text x="231.4" y="264.9" text-anchor="middle" font-size="8.4">100</text><text x="28.9" y="35.7" text-anchor="end" font-size="8.4">100</text></g>
<text x="130.8" y="277.8" font-size="9.8" font-weight="bold" fill="#111" text-anchor="middle">measured temperature (°C)</text>
<text transform="translate(10.1 143.6) rotate(-90)" font-size="9.8" font-weight="bold" fill="#111" text-anchor="middle" textLength="120.6" lengthAdjust="spacingAndGlyphs">pedicted temperature (°C)</text>
<rect x="237.4" y="48" width="8.6" height="201.5" fill="url(#cb)"/>
<text x="238.6" y="43.9" font-size="10" fill="#1a1a1a" textLength="31.4" lengthAdjust="spacingAndGlyphs">Density</text>
<g font-size="8" fill="#222"><text x="247.8" y="254.3">0</text><text x="247.8" y="225.2">100</text><text x="247.8" y="196.2">200</text><text x="247.8" y="167.1">300</text><text x="247.8" y="138.0">400</text><text x="247.8" y="109.0">500</text><text x="247.8" y="79.9">600</text></g>
<text x="285.3" y="9.9" font-size="13" font-weight="bold" fill="#111">B</text>
<path fill="#4e708a" stroke="#44637d" stroke-width="0.5" d="M321.49 110.30V110.08H325.38V110.30ZM333.17 110.30V110.08H337.06V110.30ZM344.85 110.30V110.08H348.74V109.42H352.63V109.42H356.53V109.20H360.42V108.54H364.31V108.54H368.21V106.33H372.10V106.33H375.99V106.33H379.88V103.24H383.78V96.63H387.67V94.86H391.56V90.90H395.46V86.93H399.35V86.05H403.24V77.89H407.14V79.21H411.03V71.49H414.92V68.41H418.81V73.26H422.71V66.86H426.60V61.79H430.49V67.52H434.39V71.05H438.28V74.36H442.17V83.62H446.06V91.56H449.96V92.00H453.85V97.95H457.74V96.85H461.64V99.05H465.53V104.35H469.42V105.67H473.32V107.21H477.21V107.21H481.10V107.65H485.00V108.32H488.89V108.98H492.78V108.98H496.67V109.20H500.57V109.64H504.46V109.64H508.35V109.64H512.25V109.64H516.14V108.98H520.03V110.08H523.92V110.08H527.82V110.30Z"/>
<path fill="#e11c50" d="M333.17 221.30V221.08H337.06V221.30ZM348.74 221.30V221.08H352.63V221.30ZM360.42 221.30V221.08H364.31V220.86H368.21V220.64H372.10V220.64H375.99V220.43H379.88V219.55H383.78V219.55H387.67V220.43H391.56V214.96H395.46V214.96H399.35V207.32H403.24V198.36H407.14V197.05H411.03V174.98H414.92V163.18H418.81V150.07H422.71V154.44H426.60V148.54H430.49V161.65H434.39V171.05H438.28V183.94H442.17V195.74H446.06V202.73H449.96V208.19H453.85V210.38H457.74V213.22H461.64V215.40H465.53V217.59H469.42V218.68H473.32V219.12H477.21V219.77H481.10V220.21H485.00V220.43H488.89V220.64H492.78V221.30Z"/>
<line x1="361.30" y1="127.30" x2="407.60" y2="127.30" stroke="#5b7a94" stroke-width="0.8"/><line x1="439.30" y1="127.30" x2="485.50" y2="127.30" stroke="#5b7a94" stroke-width="0.8"/><line x1="361.30" y1="123.30" x2="361.30" y2="131.30" stroke="#5b7a94" stroke-width="0.8"/><line x1="485.50" y1="123.30" x2="485.50" y2="131.30" stroke="#5b7a94" stroke-width="0.8"/><rect x="407.60" y="119.00" width="31.70" height="16.60" fill="#a9b9c8" stroke="#5b7a94" stroke-width="0.9"/><line x1="424.30" y1="119.00" x2="424.30" y2="135.60" stroke="#5b7a94" stroke-width="0.9"/><circle cx="323.00" cy="127.30" r="0.8" fill="#4e708a"/><circle cx="333.20" cy="127.30" r="0.8" fill="#4e708a"/><circle cx="345.30" cy="127.30" r="0.8" fill="#4e708a"/><circle cx="348.20" cy="127.30" r="0.8" fill="#4e708a"/><circle cx="350.80" cy="127.30" r="0.8" fill="#4e708a"/><rect x="353.20" y="126.50" width="6.30" height="1.6" fill="#4e708a"/><rect x="485.50" y="126.50" width="14.00" height="1.6" fill="#4e708a"/><circle cx="501.50" cy="127.30" r="0.8" fill="#4e708a"/><circle cx="505.00" cy="127.30" r="0.8" fill="#4e708a"/><circle cx="509.00" cy="127.30" r="0.8" fill="#4e708a"/><circle cx="513.00" cy="127.30" r="0.8" fill="#4e708a"/><circle cx="517.50" cy="127.30" r="0.8" fill="#4e708a"/>
<line x1="388.90" y1="238.40" x2="416.80" y2="238.40" stroke="#e3305c" stroke-width="0.8"/><line x1="436.20" y1="238.40" x2="464.50" y2="238.40" stroke="#e3305c" stroke-width="0.8"/><line x1="388.90" y1="234.40" x2="388.90" y2="242.40" stroke="#e3305c" stroke-width="0.8"/><line x1="464.50" y1="234.40" x2="464.50" y2="242.40" stroke="#e3305c" stroke-width="0.8"/><rect x="416.80" y="230.10" width="19.40" height="16.60" fill="#f29bb2" stroke="#e3305c" stroke-width="0.9"/><line x1="426.40" y1="230.10" x2="426.40" y2="246.70" stroke="#e3305c" stroke-width="0.9"/><circle cx="334.70" cy="238.40" r="0.8" fill="#e11c50"/><circle cx="352.20" cy="238.40" r="0.8" fill="#e11c50"/><circle cx="361.20" cy="238.40" r="0.8" fill="#e11c50"/><circle cx="365.00" cy="238.40" r="0.8" fill="#e11c50"/><rect x="368.90" y="237.60" width="2.90" height="1.6" fill="#e11c50"/><rect x="373.30" y="237.60" width="3.60" height="1.6" fill="#e11c50"/><rect x="378.40" y="237.60" width="10.50" height="1.6" fill="#e11c50"/><rect x="464.50" y="237.60" width="27.30" height="1.6" fill="#e11c50"/>
<rect x="310.2" y="33.3" width="233.2" height="220.9" fill="none" stroke="#555" stroke-width="1"/>
<path d="M348.7 254.2V251.7M387.7 254.2V251.7M426.6 254.2V251.7M465.5 254.2V251.7M504.5 254.2V251.7M309.4 99.3H312.6M309.4 88.2H312.6M309.4 77.2H312.6M309.4 66.2H312.6M309.4 55.2H312.6M309.4 44.1H312.6M309.4 33.1H312.6M309.4 210.4H312.6M309.4 199.5H312.6M309.4 188.5H312.6M309.4 177.6H312.6M309.4 166.7H312.6M309.4 155.8H312.6M309.4 144.8H312.6" stroke="#4a4a4a" stroke-width="0.9" fill="none"/>
<g font-size="8.3" fill="#222"><text x="310.6" y="264.2" text-anchor="middle">−30</text><text x="349.5" y="264.2" text-anchor="middle">−20</text><text x="388.5" y="264.2" text-anchor="middle">−10</text><text x="426.6" y="264.2" text-anchor="middle">0</text><text x="465.5" y="264.2" text-anchor="middle">10</text><text x="504.5" y="264.2" text-anchor="middle">20</text><text x="543.4" y="264.2" text-anchor="middle">30</text><text x="309.2" y="113.7" text-anchor="end">0</text><text x="309.2" y="102.7" text-anchor="end">50</text><text x="309.2" y="91.7" text-anchor="end">100</text><text x="309.2" y="80.6" text-anchor="end">150</text><text x="309.2" y="69.6" text-anchor="end">200</text><text x="309.2" y="58.6" text-anchor="end">250</text><text x="309.2" y="47.5" text-anchor="end">300</text><text x="309.2" y="36.5" text-anchor="end">350</text><text x="309.2" y="224.7" text-anchor="end">0</text><text x="309.2" y="213.8" text-anchor="end">50</text><text x="309.2" y="202.9" text-anchor="end">100</text><text x="309.2" y="191.9" text-anchor="end">150</text><text x="309.2" y="181.0" text-anchor="end">200</text><text x="309.2" y="170.1" text-anchor="end">250</text><text x="309.2" y="159.2" text-anchor="end">300</text><text x="309.2" y="148.2" text-anchor="end">350</text></g>
<rect x="372.2" y="40" width="3.1" height="3.1" fill="#e11c50"/>
<text x="380.1" y="44.8" font-size="9.6" fill="#222" textLength="50.9" lengthAdjust="spacingAndGlyphs">deepSTABp</text>
<rect x="442.1" y="39.8" width="3.3" height="3.3" fill="#4e708a"/>
<text x="450" y="44.8" font-size="9.5" fill="#222" textLength="42" lengthAdjust="spacingAndGlyphs">ProTstab2</text>
<text transform="translate(286.8 71.6) rotate(-90)" font-size="10" font-weight="bold" fill="#111" text-anchor="middle">number of proteins</text>
<text transform="translate(286.8 182.5) rotate(-90)" font-size="10" font-weight="bold" fill="#111" text-anchor="middle">number of proteins</text>
<text x="425.2" y="279" font-size="9.8" font-weight="bold" fill="#111" text-anchor="middle">difference between predicted and experimentally</text>
<text x="426.4" y="291.9" font-size="9.8" font-weight="bold" fill="#111" text-anchor="middle" xml:space="preserve">determined melting temperature   (°C)</text>
</svg></body></html>
